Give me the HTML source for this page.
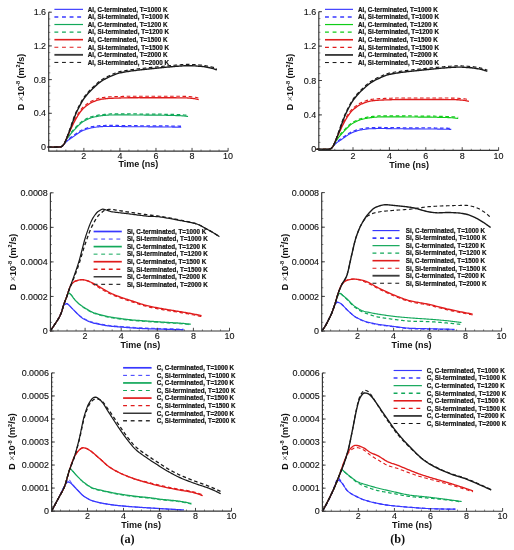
<!DOCTYPE html>
<html><head><meta charset="utf-8"><title>Figure</title>
<style>
html,body{margin:0;padding:0;background:#fff;}
body{width:514px;height:550px;overflow:hidden;}
svg{display:block}
.tl{font-family:"Liberation Sans",Arial,sans-serif;font-size:8.95px;fill:#111;stroke:#111;stroke-width:0.12px;}
.tt{font-family:"Liberation Sans",Arial,sans-serif;font-size:9px;font-weight:bold;fill:#111;}
.lg{font-family:"Liberation Sans",Arial,sans-serif;font-size:6.6px;font-weight:bold;fill:#111;stroke:#111;stroke-width:0.22px;}
.sup{font-size:5.6px;}
.mx{font-weight:normal;fill:#555;}
.cap{font-family:"Liberation Serif","Times New Roman",serif;font-size:12.3px;font-weight:bold;fill:#111;}
</style></head>
<body>
<svg width="514" height="550" viewBox="0 0 514 550">
<rect width="514" height="550" fill="#fff"/>
<path d="M47.80 147.00 L48.76 147.04 L49.72 147.08 L50.68 147.10 L51.64 147.11 L52.60 147.11 L53.56 147.10 L54.52 147.09 L55.48 147.08 L56.44 147.06 L57.40 147.04 L58.36 147.01 L58.98 147.00 L59.32 146.99 L60.28 146.87 L61.24 146.68 L61.32 146.66 L62.20 146.19 L63.16 145.26 L64.03 144.30 L64.12 144.20 L65.08 142.87 L65.83 141.94 L66.04 141.76 L67.00 140.99 L67.96 140.31 L68.92 139.68 L69.88 139.06 L70.34 138.74 L70.84 138.40 L71.80 137.73 L72.76 137.07 L73.72 136.41 L74.68 135.74 L74.84 135.63 L75.64 135.07 L76.60 134.38 L77.56 133.69 L78.52 133.04 L79.35 132.51 L79.48 132.43 L80.44 131.86 L81.40 131.31 L82.36 130.80 L83.32 130.36 L83.86 130.15 L84.28 130.00 L85.23 129.66 L86.19 129.34 L87.15 129.02 L88.11 128.72 L89.07 128.44 L90.03 128.19 L90.99 127.97 L91.95 127.77 L92.88 127.62 L92.91 127.62 L93.87 127.48 L94.83 127.33 L95.79 127.19 L96.75 127.06 L97.71 126.94 L98.67 126.83 L99.63 126.74 L100.59 126.67 L101.55 126.62 L101.89 126.61 L102.51 126.60 L103.47 126.57 L104.43 126.55 L105.39 126.52 L106.35 126.50 L107.31 126.48 L108.27 126.46 L109.23 126.45 L110.19 126.44 L111.15 126.43 L112.11 126.44 L112.71 126.44 L113.07 126.45 L114.03 126.46 L114.99 126.47 L115.95 126.49 L116.91 126.50 L117.87 126.52 L118.83 126.54 L119.79 126.55 L120.75 126.57 L121.71 126.59 L122.67 126.60 L123.63 126.62 L124.59 126.64 L125.55 126.65 L126.51 126.66 L127.47 126.68 L128.43 126.69 L128.94 126.70 L129.39 126.70 L130.35 126.71 L131.31 126.72 L132.27 126.73 L133.23 126.74 L134.19 126.75 L135.15 126.75 L136.11 126.76 L137.07 126.77 L138.03 126.77 L138.99 126.78 L139.95 126.78 L140.91 126.79 L141.87 126.79 L142.83 126.80 L143.79 126.80 L144.75 126.81 L145.71 126.81 L146.67 126.82 L147.63 126.82 L148.59 126.83 L149.55 126.83 L150.51 126.84 L151.47 126.84 L152.43 126.85 L153.39 126.85 L154.35 126.86 L155.31 126.87 L156.27 126.87 L157.23 126.88 L158.19 126.88 L159.14 126.89 L160.10 126.90 L161.06 126.91 L162.02 126.92 L162.98 126.93 L163.94 126.94 L164.90 126.95 L165.00 126.95 L165.86 126.96 L166.82 126.97 L167.78 126.99 L168.74 127.00 L169.70 127.02 L170.66 127.04 L171.62 127.06 L172.58 127.08 L173.54 127.10 L174.50 127.12 L175.46 127.14 L176.42 127.17 L177.38 127.19 L178.34 127.21 L179.30 127.24 L180.26 127.26 L181.22 127.29" fill="none" stroke="#3838ff" stroke-width="1.1"/>
<path d="M47.80 147.00 L48.76 147.04 L49.72 147.08 L50.68 147.10 L51.64 147.11 L52.60 147.11 L53.56 147.10 L54.52 147.09 L55.48 147.08 L56.44 147.06 L57.40 147.04 L58.36 147.01 L58.98 147.00 L59.32 146.99 L60.28 146.87 L61.24 146.68 L61.32 146.66 L62.20 146.19 L63.16 145.26 L64.03 144.30 L64.12 144.20 L65.08 142.92 L65.83 141.94 L66.04 141.72 L67.00 140.72 L67.96 139.78 L68.92 138.90 L69.88 138.09 L70.34 137.73 L70.84 137.36 L71.80 136.67 L72.76 136.02 L73.72 135.38 L74.68 134.73 L74.84 134.62 L75.64 134.06 L76.60 133.37 L77.56 132.68 L78.52 132.03 L79.35 131.50 L79.48 131.42 L80.44 130.85 L81.40 130.30 L82.36 129.79 L83.32 129.35 L83.86 129.14 L84.28 128.99 L85.23 128.65 L86.19 128.32 L87.15 128.01 L88.11 127.71 L89.07 127.43 L90.03 127.18 L90.99 126.96 L91.95 126.76 L92.88 126.61 L92.91 126.61 L93.87 126.46 L94.83 126.32 L95.79 126.18 L96.75 126.05 L97.71 125.93 L98.67 125.82 L99.63 125.73 L100.59 125.66 L101.55 125.61 L101.89 125.60 L102.51 125.59 L103.47 125.56 L104.43 125.54 L105.39 125.51 L106.35 125.49 L107.31 125.47 L108.27 125.45 L109.23 125.44 L110.19 125.43 L111.15 125.42 L112.11 125.43 L112.71 125.43 L113.07 125.44 L114.03 125.45 L114.99 125.46 L115.95 125.48 L116.91 125.49 L117.87 125.51 L118.83 125.53 L119.79 125.54 L120.75 125.56 L121.71 125.58 L122.67 125.59 L123.63 125.61 L124.59 125.62 L125.55 125.64 L126.51 125.65 L127.47 125.67 L128.43 125.68 L128.94 125.68 L129.39 125.69 L130.35 125.70 L131.31 125.71 L132.27 125.72 L133.23 125.73 L134.19 125.73 L135.15 125.74 L136.11 125.75 L137.07 125.76 L138.03 125.76 L138.99 125.77 L139.95 125.77 L140.91 125.78 L141.87 125.78 L142.83 125.79 L143.79 125.79 L144.75 125.80 L145.71 125.80 L146.67 125.81 L147.63 125.81 L148.59 125.82 L149.55 125.82 L150.51 125.83 L151.47 125.83 L152.43 125.84 L153.39 125.84 L154.35 125.85 L155.31 125.85 L156.27 125.86 L157.23 125.87 L158.19 125.87 L159.14 125.88 L160.10 125.89 L161.06 125.90 L162.02 125.91 L162.98 125.92 L163.94 125.93 L164.90 125.94 L165.00 125.94 L165.86 125.95 L166.82 125.96 L167.78 125.98 L168.74 125.99 L169.70 126.01 L170.66 126.03 L171.62 126.05 L172.58 126.07 L173.54 126.09 L174.50 126.11 L175.46 126.13 L176.42 126.15 L177.38 126.18 L178.34 126.20 L179.30 126.23 L180.26 126.25 L181.22 126.27" fill="none" stroke="#3838ff" stroke-width="1.3" stroke-dasharray="3.6 2.6"/>
<path d="M47.80 147.00 L48.81 147.05 L49.82 147.08 L50.83 147.10 L51.84 147.11 L52.85 147.11 L53.85 147.10 L54.86 147.08 L55.87 147.07 L56.88 147.04 L57.89 147.02 L58.90 147.00 L58.98 147.00 L59.91 146.92 L60.92 146.75 L61.32 146.66 L61.93 146.39 L62.94 145.44 L63.95 144.16 L64.03 144.05 L64.96 142.37 L65.83 140.68 L65.96 140.47 L66.97 138.92 L67.98 137.46 L68.99 136.08 L70.00 134.78 L70.34 134.36 L71.01 133.55 L72.02 132.39 L73.03 131.27 L74.04 130.17 L74.84 129.31 L75.05 129.09 L76.06 128.00 L77.07 126.93 L78.07 125.89 L79.08 124.92 L79.35 124.67 L80.09 124.01 L81.10 123.12 L82.11 122.30 L83.12 121.58 L83.86 121.14 L84.13 120.99 L85.14 120.46 L86.15 119.94 L87.16 119.45 L88.17 118.99 L89.18 118.56 L90.18 118.16 L91.19 117.81 L92.20 117.51 L92.88 117.34 L93.21 117.27 L94.22 117.03 L95.23 116.80 L96.24 116.58 L97.25 116.37 L98.26 116.18 L99.27 116.00 L100.28 115.85 L101.29 115.72 L101.89 115.66 L102.29 115.62 L103.30 115.52 L104.31 115.42 L105.32 115.33 L106.33 115.24 L107.34 115.16 L108.35 115.09 L109.36 115.03 L110.37 115.00 L110.91 114.98 L111.38 114.98 L112.39 114.96 L113.40 114.95 L114.40 114.94 L115.41 114.92 L116.42 114.91 L117.43 114.90 L118.44 114.90 L119.45 114.90 L119.92 114.90 L120.46 114.90 L121.47 114.91 L122.48 114.91 L123.49 114.92 L124.50 114.92 L125.51 114.92 L126.51 114.93 L127.52 114.94 L128.53 114.94 L129.54 114.95 L130.55 114.95 L131.56 114.96 L132.57 114.97 L133.58 114.97 L134.59 114.98 L135.60 114.99 L136.61 114.99 L137.62 115.00 L138.62 115.01 L139.63 115.02 L140.64 115.02 L141.65 115.03 L142.66 115.04 L143.67 115.05 L144.68 115.06 L145.69 115.07 L146.70 115.07 L147.71 115.08 L148.72 115.09 L149.73 115.10 L150.73 115.11 L151.74 115.12 L152.75 115.13 L153.76 115.13 L154.77 115.14 L155.78 115.15 L155.98 115.15 L156.79 115.16 L157.80 115.17 L158.81 115.18 L159.82 115.20 L160.83 115.21 L161.84 115.23 L162.84 115.24 L163.85 115.26 L164.86 115.28 L165.87 115.30 L166.88 115.32 L167.89 115.35 L168.90 115.37 L169.91 115.39 L170.92 115.42 L171.93 115.44 L172.94 115.47 L173.95 115.50 L174.95 115.53 L175.96 115.56 L176.97 115.59 L177.98 115.62 L178.99 115.65 L179.42 115.66 L180.00 115.68 L181.01 115.74 L182.02 115.81 L183.03 115.91 L184.04 116.01 L185.05 116.13 L186.06 116.25 L187.06 116.38 L188.07 116.50" fill="none" stroke="#12a85a" stroke-width="1.15"/>
<path d="M47.80 147.00 L48.81 147.05 L49.82 147.08 L50.83 147.10 L51.84 147.11 L52.85 147.11 L53.85 147.10 L54.86 147.08 L55.87 147.07 L56.88 147.04 L57.89 147.02 L58.90 147.00 L58.98 147.00 L59.91 146.92 L60.92 146.75 L61.32 146.66 L61.93 146.39 L62.94 145.44 L63.95 144.16 L64.03 144.05 L64.96 142.40 L65.83 140.68 L65.96 140.45 L66.97 138.68 L67.98 136.95 L68.99 135.30 L70.00 133.80 L70.34 133.35 L71.01 132.50 L72.02 131.32 L73.03 130.21 L74.04 129.15 L74.84 128.30 L75.05 128.08 L76.06 127.00 L77.07 125.92 L78.07 124.88 L79.08 123.91 L79.35 123.66 L80.09 123.00 L81.10 122.11 L82.11 121.29 L83.12 120.57 L83.86 120.12 L84.13 119.98 L85.14 119.45 L86.15 118.93 L87.16 118.44 L88.17 117.98 L89.18 117.54 L90.18 117.15 L91.19 116.80 L92.20 116.50 L92.88 116.33 L93.21 116.25 L94.22 116.02 L95.23 115.79 L96.24 115.57 L97.25 115.36 L98.26 115.16 L99.27 114.99 L100.28 114.84 L101.29 114.71 L101.89 114.65 L102.29 114.61 L103.30 114.51 L104.31 114.41 L105.32 114.32 L106.33 114.23 L107.34 114.15 L108.35 114.08 L109.36 114.02 L110.37 113.98 L110.91 113.97 L111.38 113.97 L112.39 113.95 L113.40 113.94 L114.40 113.92 L115.41 113.91 L116.42 113.90 L117.43 113.89 L118.44 113.89 L119.45 113.89 L119.92 113.89 L120.46 113.89 L121.47 113.90 L122.48 113.90 L123.49 113.90 L124.50 113.91 L125.51 113.91 L126.51 113.92 L127.52 113.92 L128.53 113.93 L129.54 113.94 L130.55 113.94 L131.56 113.95 L132.57 113.96 L133.58 113.96 L134.59 113.97 L135.60 113.98 L136.61 113.98 L137.62 113.99 L138.62 114.00 L139.63 114.01 L140.64 114.01 L141.65 114.02 L142.66 114.03 L143.67 114.04 L144.68 114.05 L145.69 114.05 L146.70 114.06 L147.71 114.07 L148.72 114.08 L149.73 114.09 L150.73 114.10 L151.74 114.11 L152.75 114.11 L153.76 114.12 L154.77 114.13 L155.78 114.14 L155.98 114.14 L156.79 114.15 L157.80 114.16 L158.81 114.17 L159.82 114.19 L160.83 114.20 L161.84 114.22 L162.84 114.23 L163.85 114.25 L164.86 114.27 L165.87 114.29 L166.88 114.31 L167.89 114.34 L168.90 114.36 L169.91 114.38 L170.92 114.41 L171.93 114.43 L172.94 114.46 L173.95 114.49 L174.95 114.52 L175.96 114.54 L176.97 114.57 L177.98 114.60 L178.99 114.63 L179.42 114.65 L180.00 114.67 L181.01 114.73 L182.02 114.80 L183.03 114.90 L184.04 115.00 L185.05 115.12 L186.06 115.24 L187.06 115.37 L188.07 115.49" fill="none" stroke="#12a85a" stroke-width="1.25" stroke-dasharray="3.6 2.6"/>
<path d="M47.80 147.00 L48.89 147.05 L49.97 147.08 L51.06 147.10 L52.14 147.11 L53.23 147.10 L54.31 147.09 L55.40 147.07 L56.49 147.05 L57.57 147.03 L58.66 147.01 L58.98 147.00 L59.74 146.94 L60.83 146.76 L61.32 146.66 L61.91 146.41 L63.00 145.40 L64.03 144.05 L64.09 143.97 L65.17 141.77 L65.83 140.26 L66.26 139.32 L67.34 136.88 L68.43 134.40 L69.51 131.95 L70.34 130.15 L70.60 129.59 L71.69 127.26 L72.77 124.98 L73.86 122.78 L74.84 120.88 L74.94 120.70 L76.03 118.72 L77.11 116.80 L78.20 115.01 L79.29 113.39 L79.35 113.30 L80.37 111.90 L81.46 110.47 L82.54 109.19 L83.63 108.11 L83.86 107.91 L84.71 107.21 L85.80 106.34 L86.88 105.50 L87.97 104.70 L89.06 103.96 L90.14 103.28 L91.23 102.68 L92.31 102.16 L92.88 101.93 L93.40 101.72 L94.48 101.30 L95.57 100.89 L96.66 100.49 L97.74 100.12 L98.83 99.79 L99.91 99.50 L101.00 99.28 L101.89 99.15 L102.08 99.12 L103.17 98.99 L104.26 98.86 L105.34 98.74 L106.43 98.62 L107.51 98.52 L108.60 98.43 L109.68 98.36 L110.77 98.31 L110.91 98.30 L111.86 98.27 L112.94 98.24 L114.03 98.20 L115.11 98.17 L116.20 98.13 L117.28 98.09 L118.37 98.06 L119.46 98.02 L120.54 97.99 L121.63 97.95 L122.71 97.92 L123.80 97.89 L124.88 97.86 L125.97 97.83 L127.06 97.81 L128.14 97.79 L129.23 97.77 L130.31 97.75 L131.40 97.73 L132.48 97.72 L133.57 97.72 L134.34 97.71 L134.66 97.71 L135.74 97.71 L136.83 97.71 L137.91 97.71 L139.00 97.70 L140.08 97.70 L141.17 97.70 L142.26 97.70 L143.34 97.70 L144.43 97.70 L145.51 97.70 L146.60 97.70 L147.68 97.70 L148.77 97.70 L149.85 97.70 L150.94 97.70 L152.03 97.70 L153.11 97.70 L154.20 97.70 L155.28 97.70 L156.37 97.70 L157.45 97.70 L158.54 97.70 L159.63 97.70 L160.71 97.71 L161.80 97.71 L162.88 97.71 L163.97 97.71 L165.00 97.71 L165.05 97.71 L166.14 97.72 L167.23 97.72 L168.31 97.73 L169.40 97.73 L170.48 97.74 L171.57 97.75 L172.65 97.76 L173.74 97.77 L174.83 97.77 L175.91 97.79 L177.00 97.80 L178.08 97.81 L179.17 97.82 L180.25 97.83 L181.34 97.84 L182.43 97.86 L183.51 97.87 L184.60 97.88 L184.83 97.88 L185.68 97.90 L186.77 97.94 L187.85 98.00 L188.94 98.08 L190.03 98.17 L191.11 98.28 L192.20 98.39 L193.28 98.50 L193.84 98.56 L194.37 98.62 L195.45 98.81 L196.54 99.06 L197.63 99.35 L198.71 99.65" fill="none" stroke="#e01c1c" stroke-width="1.35"/>
<path d="M47.80 147.00 L48.89 147.05 L49.97 147.08 L51.06 147.10 L52.14 147.11 L53.23 147.10 L54.31 147.09 L55.40 147.07 L56.49 147.05 L57.57 147.03 L58.66 147.01 L58.98 147.00 L59.74 146.94 L60.83 146.76 L61.32 146.66 L61.91 146.40 L63.00 145.37 L64.03 144.05 L64.09 143.97 L65.17 141.82 L65.83 140.26 L66.26 139.23 L67.34 136.42 L68.43 133.49 L69.51 130.63 L70.34 128.63 L70.60 128.04 L71.69 125.65 L72.77 123.38 L73.86 121.22 L74.84 119.37 L74.94 119.19 L76.03 117.21 L77.11 115.30 L78.20 113.50 L79.29 111.88 L79.35 111.78 L80.37 110.38 L81.46 108.96 L82.54 107.67 L83.63 106.59 L83.86 106.39 L84.71 105.69 L85.80 104.82 L86.88 103.98 L87.97 103.18 L89.06 102.44 L90.14 101.76 L91.23 101.16 L92.31 100.64 L92.88 100.41 L93.40 100.21 L94.48 99.78 L95.57 99.37 L96.66 98.97 L97.74 98.60 L98.83 98.27 L99.91 97.99 L101.00 97.76 L101.89 97.63 L102.08 97.61 L103.17 97.47 L104.26 97.34 L105.34 97.22 L106.43 97.10 L107.51 97.00 L108.60 96.91 L109.68 96.84 L110.77 96.79 L110.91 96.79 L111.86 96.76 L112.94 96.72 L114.03 96.69 L115.11 96.65 L116.20 96.61 L117.28 96.58 L118.37 96.54 L119.46 96.51 L120.54 96.47 L121.63 96.44 L122.71 96.41 L123.80 96.37 L124.88 96.35 L125.97 96.32 L127.06 96.29 L128.14 96.27 L129.23 96.25 L130.31 96.23 L131.40 96.22 L132.48 96.21 L133.57 96.20 L134.34 96.20 L134.66 96.20 L135.74 96.19 L136.83 96.19 L137.91 96.19 L139.00 96.19 L140.08 96.19 L141.17 96.19 L142.26 96.18 L143.34 96.18 L144.43 96.18 L145.51 96.18 L146.60 96.18 L147.68 96.18 L148.77 96.18 L149.85 96.18 L150.94 96.18 L152.03 96.18 L153.11 96.18 L154.20 96.18 L155.28 96.18 L156.37 96.18 L157.45 96.18 L158.54 96.19 L159.63 96.19 L160.71 96.19 L161.80 96.19 L162.88 96.19 L163.97 96.20 L165.00 96.20 L165.05 96.20 L166.14 96.20 L167.23 96.20 L168.31 96.21 L169.40 96.22 L170.48 96.22 L171.57 96.23 L172.65 96.24 L173.74 96.25 L174.83 96.26 L175.91 96.27 L177.00 96.28 L178.08 96.29 L179.17 96.30 L180.25 96.31 L181.34 96.33 L182.43 96.34 L183.51 96.35 L184.60 96.36 L184.83 96.37 L185.68 96.38 L186.77 96.43 L187.85 96.49 L188.94 96.57 L190.03 96.66 L191.11 96.76 L192.20 96.87 L193.28 96.98 L193.84 97.04 L194.37 97.10 L195.45 97.30 L196.54 97.55 L197.63 97.84 L198.71 98.13" fill="none" stroke="#e01c1c" stroke-width="1.1" stroke-dasharray="3.6 2.6"/>
<path d="M47.80 147.00 L49.02 147.05 L50.23 147.09 L51.45 147.10 L52.67 147.11 L53.88 147.10 L55.10 147.08 L56.32 147.06 L57.53 147.03 L58.75 147.00 L58.98 147.00 L59.97 146.91 L61.18 146.69 L61.32 146.66 L62.40 146.02 L63.62 144.60 L64.03 144.05 L64.83 142.58 L65.83 140.26 L66.05 139.75 L67.27 136.82 L68.48 133.75 L69.70 130.57 L70.34 128.89 L70.92 127.30 L72.13 123.79 L73.35 120.25 L74.57 116.94 L74.84 116.25 L75.78 114.02 L77.00 111.31 L78.22 108.78 L79.35 106.56 L79.43 106.40 L80.65 104.12 L81.87 101.92 L83.08 99.89 L83.86 98.72 L84.30 98.10 L85.52 96.48 L86.73 94.96 L87.95 93.55 L88.37 93.08 L89.17 92.20 L90.38 90.90 L91.60 89.66 L92.82 88.50 L92.88 88.45 L94.03 87.37 L95.25 86.25 L96.47 85.14 L97.68 84.06 L98.90 83.04 L100.12 82.09 L101.33 81.22 L101.89 80.86 L102.55 80.46 L103.77 79.74 L104.98 79.06 L106.20 78.41 L107.42 77.81 L108.64 77.23 L109.85 76.68 L110.91 76.23 L111.07 76.16 L112.29 75.64 L113.50 75.11 L114.72 74.58 L115.94 74.09 L117.15 73.64 L118.37 73.25 L119.59 72.93 L119.92 72.86 L120.80 72.69 L122.02 72.46 L123.24 72.24 L124.45 72.02 L125.67 71.82 L126.89 71.63 L128.10 71.44 L129.32 71.27 L130.54 71.09 L131.75 70.93 L132.97 70.77 L134.19 70.62 L135.40 70.47 L136.62 70.32 L137.84 70.18 L137.95 70.16 L139.05 70.04 L140.27 69.90 L141.49 69.76 L142.70 69.62 L143.92 69.49 L145.14 69.36 L146.35 69.22 L147.57 69.09 L148.79 68.96 L150.00 68.83 L151.22 68.71 L152.44 68.58 L153.65 68.46 L154.87 68.34 L155.98 68.23 L156.09 68.22 L157.30 68.10 L158.52 67.97 L159.74 67.85 L160.95 67.73 L162.17 67.62 L163.39 67.50 L164.60 67.38 L165.82 67.26 L167.04 67.15 L168.25 67.04 L169.47 66.93 L170.69 66.82 L171.90 66.72 L173.12 66.61 L174.01 66.54 L174.34 66.51 L175.55 66.42 L176.77 66.32 L177.99 66.22 L179.20 66.12 L180.42 66.03 L181.64 65.95 L182.85 65.87 L184.07 65.80 L185.29 65.75 L186.50 65.70 L186.63 65.70 L187.72 65.68 L188.94 65.67 L190.15 65.69 L191.37 65.73 L192.59 65.78 L193.80 65.85 L195.02 65.92 L196.24 66.01 L197.45 66.10 L198.67 66.19 L199.89 66.28 L201.06 66.37 L201.10 66.38 L202.32 66.49 L203.54 66.64 L204.75 66.81 L205.97 67.02 L207.19 67.24 L208.40 67.47 L209.62 67.71 L210.07 67.81 L210.84 67.97 L212.05 68.29 L213.27 68.65 L214.49 69.05 L215.70 69.47 L216.92 69.91" fill="none" stroke="#1a1a1a" stroke-width="1.4"/>
<path d="M47.80 147.00 L49.02 147.05 L50.23 147.09 L51.45 147.10 L52.67 147.11 L53.88 147.10 L55.10 147.08 L56.32 147.06 L57.53 147.03 L58.75 147.00 L58.98 147.00 L59.97 146.91 L61.18 146.69 L61.32 146.66 L62.40 146.01 L63.62 144.59 L64.03 144.05 L64.83 142.62 L65.83 140.26 L66.05 139.71 L67.27 136.47 L68.48 132.98 L69.70 129.44 L70.34 127.62 L70.92 125.97 L72.13 122.43 L73.35 118.94 L74.57 115.68 L74.84 114.98 L75.78 112.75 L77.00 110.04 L78.22 107.51 L79.35 105.30 L79.43 105.14 L80.65 102.85 L81.87 100.66 L83.08 98.63 L83.86 97.46 L84.30 96.84 L85.52 95.21 L86.73 93.70 L87.95 92.28 L88.37 91.82 L89.17 90.94 L90.38 89.64 L91.60 88.40 L92.82 87.24 L92.88 87.18 L94.03 86.11 L95.25 84.98 L96.47 83.87 L97.68 82.80 L98.90 81.77 L100.12 80.82 L101.33 79.96 L101.89 79.60 L102.55 79.19 L103.77 78.47 L104.98 77.79 L106.20 77.15 L107.42 76.54 L108.64 75.97 L109.85 75.42 L110.91 74.97 L111.07 74.90 L112.29 74.37 L113.50 73.84 L114.72 73.32 L115.94 72.83 L117.15 72.37 L118.37 71.98 L119.59 71.67 L119.92 71.60 L120.80 71.42 L122.02 71.19 L123.24 70.97 L124.45 70.76 L125.67 70.56 L126.89 70.37 L128.10 70.18 L129.32 70.00 L130.54 69.83 L131.75 69.67 L132.97 69.51 L134.19 69.35 L135.40 69.20 L136.62 69.06 L137.84 68.91 L137.95 68.90 L139.05 68.77 L140.27 68.63 L141.49 68.50 L142.70 68.36 L143.92 68.23 L145.14 68.09 L146.35 67.96 L147.57 67.83 L148.79 67.70 L150.00 67.57 L151.22 67.44 L152.44 67.32 L153.65 67.20 L154.87 67.07 L155.98 66.96 L156.09 66.95 L157.30 66.83 L158.52 66.71 L159.74 66.59 L160.95 66.47 L162.17 66.35 L163.39 66.23 L164.60 66.12 L165.82 66.00 L167.04 65.89 L168.25 65.77 L169.47 65.66 L170.69 65.56 L171.90 65.45 L173.12 65.35 L174.01 65.28 L174.34 65.25 L175.55 65.15 L176.77 65.05 L177.99 64.95 L179.20 64.86 L180.42 64.77 L181.64 64.68 L182.85 64.61 L184.07 64.54 L185.29 64.48 L186.50 64.44 L186.63 64.44 L187.72 64.41 L188.94 64.41 L190.15 64.43 L191.37 64.47 L192.59 64.52 L193.80 64.58 L195.02 64.66 L196.24 64.74 L197.45 64.83 L198.67 64.93 L199.89 65.02 L201.06 65.11 L201.10 65.11 L202.32 65.22 L203.54 65.37 L204.75 65.55 L205.97 65.75 L207.19 65.97 L208.40 66.21 L209.62 66.45 L210.07 66.54 L210.84 66.71 L212.05 67.02 L213.27 67.39 L214.49 67.79 L215.70 68.21 L216.92 68.65" fill="none" stroke="#1a1a1a" stroke-width="1.15" stroke-dasharray="3.6 2.6"/>
<path d="M48.7 12.20V151.1H228.10" fill="none" stroke="#333" stroke-width="1.15"/>
<text x="46.10" y="150.10" text-anchor="end" class="tl">0</text>
<text x="46.10" y="116.40" text-anchor="end" class="tl">0.4</text>
<text x="46.10" y="82.70" text-anchor="end" class="tl">0.8</text>
<text x="46.10" y="49.00" text-anchor="end" class="tl">1.2</text>
<text x="46.10" y="15.30" text-anchor="end" class="tl">1.6</text>
<text x="83.86" y="159.2" text-anchor="middle" class="tl">2</text>
<text x="119.92" y="159.2" text-anchor="middle" class="tl">4</text>
<text x="155.98" y="159.2" text-anchor="middle" class="tl">6</text>
<text x="192.04" y="159.2" text-anchor="middle" class="tl">8</text>
<text x="228.10" y="159.2" text-anchor="middle" class="tl">10</text>
<path d="M48.7 147.00h3.2M48.7 113.30h3.2M48.7 79.60h3.2M48.7 45.90h3.2M48.7 12.20h3.2M83.86 151.1v-3.2M119.92 151.1v-3.2M155.98 151.1v-3.2M192.04 151.1v-3.2M228.10 151.1v-3.2" fill="none" stroke="#333" stroke-width="0.9"/>
<path d="M48.7 147.00h1.6M48.7 140.26h1.6M48.7 133.52h1.6M48.7 126.78h1.6M48.7 120.04h1.6M48.7 113.30h1.6M48.7 106.56h1.6M48.7 99.82h1.6M48.7 93.08h1.6M48.7 86.34h1.6M48.7 79.60h1.6M48.7 72.86h1.6M48.7 66.12h1.6M48.7 59.38h1.6M48.7 52.64h1.6M48.7 45.90h1.6M48.7 39.16h1.6M48.7 32.42h1.6M48.7 25.68h1.6M48.7 18.94h1.6M48.7 12.20h1.6M56.81 151.1v-1.6M65.83 151.1v-1.6M74.84 151.1v-1.6M92.88 151.1v-1.6M101.89 151.1v-1.6M110.91 151.1v-1.6M128.94 151.1v-1.6M137.95 151.1v-1.6M146.97 151.1v-1.6M165.00 151.1v-1.6M174.01 151.1v-1.6M183.03 151.1v-1.6M201.06 151.1v-1.6M210.07 151.1v-1.6M219.09 151.1v-1.6" fill="none" stroke="#333" stroke-width="0.6"/>
<text x="138.4" y="167.3" text-anchor="middle" class="tt">Time (ns)</text>
<text transform="translate(23.6 82) rotate(-90)" text-anchor="middle" class="tt">D <tspan class="mx">×</tspan>10<tspan class="sup" dy="-3.8">-8</tspan><tspan dy="3.8"> (m</tspan><tspan class="sup" dy="-3.8">2</tspan><tspan dy="3.8">/s)</tspan></text>
<path d="M54.4 9.35H83" stroke="#3838ff" stroke-width="1.15"/>
<text transform="translate(87.8 11.65) scale(0.952 1)" class="lg">Al, C-terminated, T=1000 K</text>
<path d="M54.4 16.93H83" stroke="#3838ff" stroke-width="1.55" stroke-dasharray="3.9 3.7"/>
<text transform="translate(87.8 19.23) scale(0.952 1)" class="lg">Al, Si-terminated, T=1000 K</text>
<path d="M54.4 24.51H83" stroke="#12a85a" stroke-width="1.2"/>
<text transform="translate(87.8 26.81) scale(0.952 1)" class="lg">Al, C-terminated, T=1200 K</text>
<path d="M54.4 32.09H83" stroke="#12a85a" stroke-width="1.4" stroke-dasharray="3.9 3.7"/>
<text transform="translate(87.8 34.39) scale(0.952 1)" class="lg">Al, Si-terminated, T=1200 K</text>
<path d="M54.4 39.67H83" stroke="#e01c1c" stroke-width="1.6"/>
<text transform="translate(87.8 41.97) scale(0.952 1)" class="lg">Al, C-terminated, T=1500 K</text>
<path d="M54.4 47.25H83" stroke="#e01c1c" stroke-width="1.1" stroke-dasharray="3.9 3.7"/>
<text transform="translate(87.8 49.55) scale(0.952 1)" class="lg">Al, Si-terminated, T=1500 K</text>
<path d="M54.4 54.83H83" stroke="#3c3c3c" stroke-width="1.85"/>
<text transform="translate(87.8 57.13) scale(0.952 1)" class="lg">Al, C-terminated, T=2000 K</text>
<path d="M54.4 62.41H83" stroke="#111" stroke-width="1.0" stroke-dasharray="3.9 3.7"/>
<text transform="translate(87.8 64.71) scale(0.952 1)" class="lg">Al, Si-terminated, T=2000 K</text>
<path d="M316.60 149.30 L317.57 149.35 L318.54 149.38 L319.51 149.40 L320.48 149.41 L321.44 149.41 L322.41 149.40 L323.38 149.39 L324.35 149.38 L325.32 149.36 L326.29 149.34 L327.26 149.31 L327.88 149.30 L328.23 149.29 L329.20 149.17 L330.16 148.98 L330.25 148.96 L331.13 148.48 L332.10 147.54 L332.98 146.58 L333.07 146.47 L334.04 145.13 L334.80 144.19 L335.01 144.01 L335.98 143.23 L336.95 142.54 L337.92 141.91 L338.89 141.27 L339.35 140.96 L339.85 140.61 L340.82 139.93 L341.79 139.26 L342.76 138.59 L343.73 137.92 L343.90 137.81 L344.70 137.24 L345.67 136.55 L346.64 135.85 L347.61 135.19 L348.45 134.66 L348.57 134.58 L349.54 134.00 L350.51 133.44 L351.48 132.93 L352.45 132.49 L353.00 132.27 L353.42 132.12 L354.39 131.78 L355.36 131.45 L356.33 131.13 L357.29 130.83 L358.26 130.55 L359.23 130.29 L360.20 130.07 L361.17 129.87 L362.10 129.72 L362.14 129.71 L363.11 129.57 L364.08 129.43 L365.05 129.28 L366.01 129.15 L366.98 129.03 L367.95 128.92 L368.92 128.82 L369.89 128.75 L370.86 128.71 L371.20 128.70 L371.83 128.68 L372.80 128.66 L373.77 128.63 L374.74 128.61 L375.70 128.58 L376.67 128.56 L377.64 128.54 L378.61 128.53 L379.58 128.52 L380.55 128.52 L381.52 128.52 L382.12 128.53 L382.49 128.53 L383.46 128.54 L384.42 128.56 L385.39 128.57 L386.36 128.59 L387.33 128.60 L388.30 128.62 L389.27 128.64 L390.24 128.65 L391.21 128.67 L392.18 128.69 L393.14 128.70 L394.11 128.72 L395.08 128.74 L396.05 128.75 L397.02 128.76 L397.99 128.78 L398.50 128.78 L398.96 128.79 L399.93 128.80 L400.90 128.81 L401.87 128.81 L402.83 128.82 L403.80 128.83 L404.77 128.84 L405.74 128.85 L406.71 128.85 L407.68 128.86 L408.65 128.86 L409.62 128.87 L410.59 128.88 L411.55 128.88 L412.52 128.89 L413.49 128.89 L414.46 128.90 L415.43 128.90 L416.40 128.91 L417.37 128.91 L418.34 128.92 L419.31 128.92 L420.27 128.92 L421.24 128.93 L422.21 128.94 L423.18 128.94 L424.15 128.95 L425.12 128.95 L426.09 128.96 L427.06 128.97 L428.03 128.97 L428.99 128.98 L429.96 128.99 L430.93 129.00 L431.90 129.01 L432.87 129.01 L433.84 129.02 L434.81 129.04 L434.90 129.04 L435.78 129.05 L436.75 129.06 L437.72 129.08 L438.68 129.09 L439.65 129.11 L440.62 129.13 L441.59 129.15 L442.56 129.17 L443.53 129.19 L444.50 129.21 L445.47 129.23 L446.44 129.26 L447.40 129.28 L448.37 129.30 L449.34 129.33 L450.31 129.35 L451.28 129.38" fill="none" stroke="#3838ff" stroke-width="1.1"/>
<path d="M316.60 149.30 L317.57 149.35 L318.54 149.38 L319.51 149.40 L320.48 149.41 L321.44 149.41 L322.41 149.40 L323.38 149.39 L324.35 149.38 L325.32 149.36 L326.29 149.34 L327.26 149.31 L327.88 149.30 L328.23 149.29 L329.20 149.17 L330.16 148.98 L330.25 148.96 L331.13 148.48 L332.10 147.54 L332.98 146.58 L333.07 146.47 L334.04 145.17 L334.80 144.19 L335.01 143.96 L335.98 142.95 L336.95 142.00 L337.92 141.12 L338.89 140.30 L339.35 139.93 L339.85 139.55 L340.82 138.86 L341.79 138.20 L342.76 137.56 L343.73 136.90 L343.90 136.78 L344.70 136.22 L345.67 135.52 L346.64 134.83 L347.61 134.17 L348.45 133.63 L348.57 133.56 L349.54 132.98 L350.51 132.42 L351.48 131.91 L352.45 131.46 L353.00 131.25 L353.42 131.10 L354.39 130.76 L355.36 130.43 L356.33 130.11 L357.29 129.81 L358.26 129.53 L359.23 129.27 L360.20 129.04 L361.17 128.85 L362.10 128.70 L362.14 128.69 L363.11 128.55 L364.08 128.40 L365.05 128.26 L366.01 128.13 L366.98 128.00 L367.95 127.89 L368.92 127.80 L369.89 127.73 L370.86 127.68 L371.20 127.67 L371.83 127.66 L372.80 127.64 L373.77 127.61 L374.74 127.59 L375.70 127.56 L376.67 127.54 L377.64 127.52 L378.61 127.51 L379.58 127.50 L380.55 127.50 L381.52 127.50 L382.12 127.50 L382.49 127.51 L383.46 127.52 L384.42 127.54 L385.39 127.55 L386.36 127.57 L387.33 127.58 L388.30 127.60 L389.27 127.62 L390.24 127.63 L391.21 127.65 L392.18 127.67 L393.14 127.68 L394.11 127.70 L395.08 127.71 L396.05 127.73 L397.02 127.74 L397.99 127.75 L398.50 127.76 L398.96 127.76 L399.93 127.77 L400.90 127.78 L401.87 127.79 L402.83 127.80 L403.80 127.81 L404.77 127.82 L405.74 127.82 L406.71 127.83 L407.68 127.84 L408.65 127.84 L409.62 127.85 L410.59 127.85 L411.55 127.86 L412.52 127.86 L413.49 127.87 L414.46 127.87 L415.43 127.88 L416.40 127.88 L417.37 127.89 L418.34 127.89 L419.31 127.90 L420.27 127.90 L421.24 127.91 L422.21 127.91 L423.18 127.92 L424.15 127.92 L425.12 127.93 L426.09 127.94 L427.06 127.94 L428.03 127.95 L428.99 127.96 L429.96 127.97 L430.93 127.97 L431.90 127.98 L432.87 127.99 L433.84 128.00 L434.81 128.01 L434.90 128.02 L435.78 128.03 L436.75 128.04 L437.72 128.05 L438.68 128.07 L439.65 128.09 L440.62 128.11 L441.59 128.12 L442.56 128.15 L443.53 128.17 L444.50 128.19 L445.47 128.21 L446.44 128.23 L447.40 128.26 L448.37 128.28 L449.34 128.31 L450.31 128.33 L451.28 128.36" fill="none" stroke="#3838ff" stroke-width="1.3" stroke-dasharray="3.6 2.6"/>
<path d="M316.60 149.30 L317.62 149.35 L318.64 149.38 L319.66 149.40 L320.67 149.41 L321.69 149.41 L322.71 149.40 L323.73 149.38 L324.75 149.37 L325.77 149.34 L326.79 149.32 L327.81 149.30 L327.88 149.30 L328.82 149.22 L329.84 149.04 L330.25 148.96 L330.86 148.68 L331.88 147.72 L332.90 146.43 L332.98 146.32 L333.92 144.62 L334.80 142.91 L334.94 142.70 L335.95 141.13 L336.97 139.66 L337.99 138.26 L339.01 136.95 L339.35 136.53 L340.03 135.71 L341.05 134.53 L342.07 133.40 L343.09 132.29 L343.90 131.42 L344.10 131.20 L345.12 130.10 L346.14 129.02 L347.16 127.97 L348.18 126.98 L348.45 126.74 L349.20 126.07 L350.22 125.17 L351.23 124.34 L352.25 123.61 L353.00 123.16 L353.27 123.02 L354.29 122.48 L355.31 121.96 L356.33 121.46 L357.35 120.99 L358.37 120.56 L359.38 120.16 L360.40 119.81 L361.42 119.50 L362.10 119.33 L362.44 119.25 L363.46 119.01 L364.48 118.78 L365.50 118.56 L366.52 118.35 L367.53 118.15 L368.55 117.97 L369.57 117.82 L370.59 117.69 L371.20 117.63 L371.61 117.59 L372.63 117.49 L373.65 117.39 L374.66 117.29 L375.68 117.20 L376.70 117.12 L377.72 117.05 L378.74 116.99 L379.76 116.96 L380.30 116.95 L380.78 116.94 L381.80 116.93 L382.81 116.91 L383.83 116.90 L384.85 116.88 L385.87 116.87 L386.89 116.87 L387.91 116.86 L388.93 116.86 L389.40 116.86 L389.94 116.86 L390.96 116.87 L391.98 116.87 L393.00 116.88 L394.02 116.88 L395.04 116.89 L396.06 116.89 L397.08 116.90 L398.09 116.90 L399.11 116.91 L400.13 116.91 L401.15 116.92 L402.17 116.93 L403.19 116.93 L404.21 116.94 L405.22 116.95 L406.24 116.96 L407.26 116.96 L408.28 116.97 L409.30 116.98 L410.32 116.99 L411.34 116.99 L412.36 117.00 L413.37 117.01 L414.39 117.02 L415.41 117.03 L416.43 117.04 L417.45 117.05 L418.47 117.05 L419.49 117.06 L420.50 117.07 L421.52 117.08 L422.54 117.09 L423.56 117.10 L424.58 117.11 L425.60 117.12 L425.80 117.12 L426.62 117.12 L427.64 117.14 L428.65 117.15 L429.67 117.16 L430.69 117.18 L431.71 117.19 L432.73 117.21 L433.75 117.23 L434.77 117.25 L435.79 117.27 L436.80 117.29 L437.82 117.31 L438.84 117.34 L439.86 117.36 L440.88 117.39 L441.90 117.41 L442.92 117.44 L443.93 117.47 L444.95 117.49 L445.97 117.52 L446.99 117.55 L448.01 117.58 L449.03 117.61 L449.46 117.63 L450.05 117.65 L451.07 117.71 L452.08 117.78 L453.10 117.88 L454.12 117.99 L455.14 118.10 L456.16 118.23 L457.18 118.35 L458.20 118.48" fill="none" stroke="#10cc18" stroke-width="1.15"/>
<path d="M316.60 149.30 L317.62 149.35 L318.64 149.38 L319.66 149.40 L320.67 149.41 L321.69 149.41 L322.71 149.40 L323.73 149.38 L324.75 149.37 L325.77 149.34 L326.79 149.32 L327.81 149.30 L327.88 149.30 L328.82 149.22 L329.84 149.04 L330.25 148.96 L330.86 148.68 L331.88 147.73 L332.90 146.43 L332.98 146.32 L333.92 144.65 L334.80 142.91 L334.94 142.68 L335.95 140.89 L336.97 139.14 L337.99 137.47 L339.01 135.96 L339.35 135.51 L340.03 134.65 L341.05 133.45 L342.07 132.34 L343.09 131.26 L343.90 130.40 L344.10 130.18 L345.12 129.09 L346.14 128.00 L347.16 126.95 L348.18 125.96 L348.45 125.72 L349.20 125.05 L350.22 124.15 L351.23 123.32 L352.25 122.59 L353.00 122.14 L353.27 121.99 L354.29 121.46 L355.31 120.94 L356.33 120.44 L357.35 119.97 L358.37 119.53 L359.38 119.14 L360.40 118.78 L361.42 118.48 L362.10 118.31 L362.44 118.23 L363.46 117.99 L364.48 117.76 L365.50 117.54 L366.52 117.32 L367.53 117.13 L368.55 116.95 L369.57 116.80 L370.59 116.67 L371.20 116.61 L371.61 116.57 L372.63 116.47 L373.65 116.37 L374.66 116.27 L375.68 116.18 L376.70 116.10 L377.72 116.03 L378.74 115.97 L379.76 115.94 L380.30 115.93 L380.78 115.92 L381.80 115.90 L382.81 115.89 L383.83 115.88 L384.85 115.86 L385.87 115.85 L386.89 115.84 L387.91 115.84 L388.93 115.84 L389.40 115.84 L389.94 115.84 L390.96 115.85 L391.98 115.85 L393.00 115.85 L394.02 115.86 L395.04 115.86 L396.06 115.87 L397.08 115.88 L398.09 115.88 L399.11 115.89 L400.13 115.89 L401.15 115.90 L402.17 115.91 L403.19 115.91 L404.21 115.92 L405.22 115.93 L406.24 115.93 L407.26 115.94 L408.28 115.95 L409.30 115.96 L410.32 115.97 L411.34 115.97 L412.36 115.98 L413.37 115.99 L414.39 116.00 L415.41 116.01 L416.43 116.01 L417.45 116.02 L418.47 116.03 L419.49 116.04 L420.50 116.05 L421.52 116.06 L422.54 116.07 L423.56 116.08 L424.58 116.08 L425.60 116.09 L425.80 116.10 L426.62 116.10 L427.64 116.11 L428.65 116.13 L429.67 116.14 L430.69 116.15 L431.71 116.17 L432.73 116.19 L433.75 116.21 L434.77 116.23 L435.79 116.25 L436.80 116.27 L437.82 116.29 L438.84 116.31 L439.86 116.34 L440.88 116.36 L441.90 116.39 L442.92 116.42 L443.93 116.44 L444.95 116.47 L445.97 116.50 L446.99 116.53 L448.01 116.56 L449.03 116.59 L449.46 116.61 L450.05 116.63 L451.07 116.69 L452.08 116.76 L453.10 116.86 L454.12 116.96 L455.14 117.08 L456.16 117.21 L457.18 117.33 L458.20 117.46" fill="none" stroke="#10cc18" stroke-width="1.25" stroke-dasharray="3.6 2.6"/>
<path d="M316.60 149.30 L317.70 149.35 L318.79 149.38 L319.89 149.40 L320.98 149.41 L322.08 149.40 L323.18 149.39 L324.27 149.37 L325.37 149.35 L326.46 149.33 L327.56 149.31 L327.88 149.30 L328.66 149.24 L329.75 149.06 L330.25 148.96 L330.85 148.70 L331.94 147.68 L332.98 146.32 L333.04 146.24 L334.13 144.02 L334.80 142.49 L335.23 141.54 L336.33 139.07 L337.42 136.57 L338.52 134.09 L339.35 132.27 L339.61 131.70 L340.71 129.35 L341.81 127.04 L342.90 124.82 L343.90 122.91 L344.00 122.72 L345.09 120.72 L346.19 118.79 L347.29 116.98 L348.38 115.34 L348.45 115.24 L349.48 113.83 L350.57 112.39 L351.67 111.09 L352.77 110.00 L353.00 109.80 L353.86 109.09 L354.96 108.21 L356.05 107.36 L357.15 106.55 L358.25 105.80 L359.34 105.12 L360.44 104.51 L361.53 103.98 L362.10 103.75 L362.63 103.54 L363.72 103.12 L364.82 102.70 L365.92 102.30 L367.01 101.92 L368.11 101.59 L369.20 101.30 L370.30 101.08 L371.20 100.94 L371.40 100.92 L372.49 100.78 L373.59 100.65 L374.68 100.53 L375.78 100.41 L376.88 100.30 L377.97 100.21 L379.07 100.14 L380.16 100.09 L380.30 100.09 L381.26 100.06 L382.36 100.02 L383.45 99.99 L384.55 99.95 L385.64 99.91 L386.74 99.88 L387.84 99.84 L388.93 99.81 L390.03 99.77 L391.12 99.74 L392.22 99.70 L393.31 99.67 L394.41 99.64 L395.51 99.62 L396.60 99.59 L397.70 99.57 L398.79 99.55 L399.89 99.53 L400.99 99.51 L402.08 99.50 L403.18 99.50 L403.96 99.49 L404.27 99.49 L405.37 99.49 L406.47 99.49 L407.56 99.49 L408.66 99.48 L409.75 99.48 L410.85 99.48 L411.95 99.48 L413.04 99.48 L414.14 99.48 L415.23 99.48 L416.33 99.48 L417.43 99.48 L418.52 99.48 L419.62 99.48 L420.71 99.48 L421.81 99.48 L422.91 99.48 L424.00 99.48 L425.10 99.48 L426.19 99.48 L427.29 99.48 L428.38 99.48 L429.48 99.48 L430.58 99.48 L431.67 99.49 L432.77 99.49 L433.86 99.49 L434.90 99.49 L434.96 99.49 L436.06 99.50 L437.15 99.50 L438.25 99.51 L439.34 99.51 L440.44 99.52 L441.54 99.53 L442.63 99.54 L443.73 99.54 L444.82 99.55 L445.92 99.57 L447.02 99.58 L448.11 99.59 L449.21 99.60 L450.30 99.61 L451.40 99.62 L452.50 99.64 L453.59 99.65 L454.69 99.66 L454.92 99.66 L455.78 99.68 L456.88 99.72 L457.97 99.79 L459.07 99.87 L460.17 99.96 L461.26 100.06 L462.36 100.17 L463.45 100.29 L464.02 100.34 L464.55 100.41 L465.65 100.60 L466.74 100.86 L467.84 101.15 L468.93 101.45" fill="none" stroke="#e01c1c" stroke-width="1.35"/>
<path d="M316.60 149.30 L317.70 149.35 L318.79 149.38 L319.89 149.40 L320.98 149.41 L322.08 149.40 L323.18 149.39 L324.27 149.37 L325.37 149.35 L326.46 149.33 L327.56 149.31 L327.88 149.30 L328.66 149.24 L329.75 149.06 L330.25 148.96 L330.85 148.70 L331.94 147.66 L332.98 146.32 L333.04 146.24 L334.13 144.07 L334.80 142.49 L335.23 141.45 L336.33 138.61 L337.42 135.65 L338.52 132.76 L339.35 130.74 L339.61 130.14 L340.71 127.72 L341.81 125.43 L342.90 123.25 L343.90 121.37 L344.00 121.19 L345.09 119.20 L346.19 117.26 L347.29 115.45 L348.38 113.81 L348.45 113.71 L349.48 112.30 L350.57 110.86 L351.67 109.56 L352.77 108.46 L353.00 108.26 L353.86 107.56 L354.96 106.68 L356.05 105.83 L357.15 105.02 L358.25 104.27 L359.34 103.58 L360.44 102.97 L361.53 102.45 L362.10 102.22 L362.63 102.01 L363.72 101.59 L364.82 101.17 L365.92 100.76 L367.01 100.39 L368.11 100.06 L369.20 99.77 L370.30 99.54 L371.20 99.41 L371.40 99.38 L372.49 99.25 L373.59 99.12 L374.68 98.99 L375.78 98.88 L376.88 98.77 L377.97 98.68 L379.07 98.61 L380.16 98.56 L380.30 98.56 L381.26 98.53 L382.36 98.49 L383.45 98.46 L384.55 98.42 L385.64 98.38 L386.74 98.35 L387.84 98.31 L388.93 98.27 L390.03 98.24 L391.12 98.20 L392.22 98.17 L393.31 98.14 L394.41 98.11 L395.51 98.08 L396.60 98.06 L397.70 98.03 L398.79 98.01 L399.89 98.00 L400.99 97.98 L402.08 97.97 L403.18 97.96 L403.96 97.96 L404.27 97.96 L405.37 97.96 L406.47 97.96 L407.56 97.95 L408.66 97.95 L409.75 97.95 L410.85 97.95 L411.95 97.95 L413.04 97.95 L414.14 97.95 L415.23 97.94 L416.33 97.94 L417.43 97.94 L418.52 97.94 L419.62 97.94 L420.71 97.94 L421.81 97.94 L422.91 97.94 L424.00 97.94 L425.10 97.95 L426.19 97.95 L427.29 97.95 L428.38 97.95 L429.48 97.95 L430.58 97.95 L431.67 97.95 L432.77 97.96 L433.86 97.96 L434.90 97.96 L434.96 97.96 L436.06 97.96 L437.15 97.97 L438.25 97.97 L439.34 97.98 L440.44 97.99 L441.54 97.99 L442.63 98.00 L443.73 98.01 L444.82 98.02 L445.92 98.03 L447.02 98.04 L448.11 98.06 L449.21 98.07 L450.30 98.08 L451.40 98.09 L452.50 98.10 L453.59 98.12 L454.69 98.13 L454.92 98.13 L455.78 98.15 L456.88 98.19 L457.97 98.25 L459.07 98.33 L460.17 98.43 L461.26 98.53 L462.36 98.64 L463.45 98.75 L464.02 98.81 L464.55 98.88 L465.65 99.07 L466.74 99.33 L467.84 99.62 L468.93 99.92" fill="none" stroke="#e01c1c" stroke-width="1.1" stroke-dasharray="3.6 2.6"/>
<path d="M316.60 149.30 L317.83 149.35 L319.06 149.39 L320.28 149.41 L321.51 149.41 L322.74 149.40 L323.97 149.38 L325.20 149.36 L326.43 149.33 L327.65 149.30 L327.88 149.30 L328.88 149.21 L330.11 148.99 L330.25 148.96 L331.34 148.31 L332.57 146.87 L332.98 146.32 L333.79 144.83 L334.80 142.49 L335.02 141.97 L336.25 139.01 L337.48 135.91 L338.71 132.70 L339.35 130.99 L339.94 129.39 L341.16 125.85 L342.39 122.26 L343.62 118.92 L343.90 118.22 L344.85 115.97 L346.08 113.23 L347.30 110.67 L348.45 108.43 L348.53 108.28 L349.76 105.96 L350.99 103.74 L352.22 101.69 L353.00 100.51 L353.45 99.89 L354.67 98.24 L355.90 96.71 L357.13 95.28 L357.55 94.81 L358.36 93.92 L359.59 92.61 L360.81 91.36 L362.04 90.18 L362.10 90.13 L363.27 89.04 L364.50 87.90 L365.73 86.78 L366.96 85.70 L368.18 84.66 L369.41 83.70 L370.64 82.83 L371.20 82.47 L371.87 82.05 L373.10 81.33 L374.32 80.64 L375.55 79.99 L376.78 79.37 L378.01 78.79 L379.24 78.24 L380.30 77.78 L380.46 77.71 L381.69 77.18 L382.92 76.65 L384.15 76.12 L385.38 75.62 L386.61 75.16 L387.83 74.77 L389.06 74.45 L389.40 74.38 L390.29 74.20 L391.52 73.97 L392.75 73.75 L393.97 73.53 L395.20 73.33 L396.43 73.13 L397.66 72.95 L398.89 72.77 L400.12 72.59 L401.34 72.43 L402.57 72.26 L403.80 72.11 L405.03 71.96 L406.26 71.81 L407.48 71.67 L407.60 71.65 L408.71 71.52 L409.94 71.38 L411.17 71.24 L412.40 71.11 L413.63 70.97 L414.85 70.84 L416.08 70.70 L417.31 70.57 L418.54 70.44 L419.77 70.31 L420.99 70.18 L422.22 70.05 L423.45 69.93 L424.68 69.81 L425.80 69.69 L425.91 69.68 L427.14 69.56 L428.36 69.44 L429.59 69.32 L430.82 69.20 L432.05 69.08 L433.28 68.96 L434.50 68.84 L435.73 68.72 L436.96 68.61 L438.19 68.49 L439.42 68.38 L440.65 68.27 L441.87 68.17 L443.10 68.06 L444.00 67.99 L444.33 67.96 L445.56 67.86 L446.79 67.76 L448.01 67.66 L449.24 67.57 L450.47 67.48 L451.70 67.39 L452.93 67.31 L454.16 67.24 L455.38 67.19 L456.61 67.14 L456.74 67.14 L457.84 67.12 L459.07 67.12 L460.30 67.13 L461.52 67.17 L462.75 67.22 L463.98 67.29 L465.21 67.37 L466.44 67.45 L467.67 67.54 L468.89 67.64 L470.12 67.73 L471.30 67.82 L471.35 67.82 L472.58 67.94 L473.81 68.09 L475.03 68.27 L476.26 68.47 L477.49 68.69 L478.72 68.93 L479.95 69.18 L480.40 69.27 L481.18 69.44 L482.40 69.76 L483.63 70.12 L484.86 70.53 L486.09 70.96 L487.32 71.40" fill="none" stroke="#1a1a1a" stroke-width="1.4"/>
<path d="M316.60 149.30 L317.83 149.35 L319.06 149.39 L320.28 149.41 L321.51 149.41 L322.74 149.40 L323.97 149.38 L325.20 149.36 L326.43 149.33 L327.65 149.30 L327.88 149.30 L328.88 149.21 L330.11 148.99 L330.25 148.96 L331.34 148.30 L332.57 146.86 L332.98 146.32 L333.79 144.87 L334.80 142.49 L335.02 141.94 L336.25 138.66 L337.48 135.13 L338.71 131.55 L339.35 129.72 L339.94 128.05 L341.16 124.47 L342.39 120.94 L343.62 117.65 L343.90 116.95 L344.85 114.69 L346.08 111.95 L347.30 109.39 L348.45 107.16 L348.53 107.00 L349.76 104.69 L350.99 102.47 L352.22 100.42 L353.00 99.24 L353.45 98.61 L354.67 96.96 L355.90 95.44 L357.13 94.00 L357.55 93.53 L358.36 92.64 L359.59 91.33 L360.81 90.08 L362.04 88.90 L362.10 88.85 L363.27 87.77 L364.50 86.63 L365.73 85.51 L366.96 84.42 L368.18 83.38 L369.41 82.42 L370.64 81.55 L371.20 81.19 L371.87 80.78 L373.10 80.05 L374.32 79.36 L375.55 78.71 L376.78 78.10 L378.01 77.51 L379.24 76.96 L380.30 76.51 L380.46 76.44 L381.69 75.91 L382.92 75.37 L384.15 74.84 L385.38 74.34 L386.61 73.89 L387.83 73.49 L389.06 73.17 L389.40 73.10 L390.29 72.92 L391.52 72.69 L392.75 72.47 L393.97 72.26 L395.20 72.05 L396.43 71.86 L397.66 71.67 L398.89 71.49 L400.12 71.32 L401.34 71.15 L402.57 70.99 L403.80 70.83 L405.03 70.68 L406.26 70.53 L407.48 70.39 L407.60 70.38 L408.71 70.25 L409.94 70.11 L411.17 69.97 L412.40 69.83 L413.63 69.69 L414.85 69.56 L416.08 69.42 L417.31 69.29 L418.54 69.16 L419.77 69.03 L420.99 68.90 L422.22 68.78 L423.45 68.65 L424.68 68.53 L425.80 68.42 L425.91 68.41 L427.14 68.28 L428.36 68.16 L429.59 68.04 L430.82 67.92 L432.05 67.80 L433.28 67.68 L434.50 67.56 L435.73 67.44 L436.96 67.33 L438.19 67.22 L439.42 67.11 L440.65 67.00 L441.87 66.89 L443.10 66.79 L444.00 66.71 L444.33 66.69 L445.56 66.59 L446.79 66.49 L448.01 66.39 L449.24 66.29 L450.47 66.20 L451.70 66.11 L452.93 66.04 L454.16 65.97 L455.38 65.91 L456.61 65.87 L456.74 65.86 L457.84 65.84 L459.07 65.84 L460.30 65.86 L461.52 65.89 L462.75 65.95 L463.98 66.01 L465.21 66.09 L466.44 66.18 L467.67 66.27 L468.89 66.36 L470.12 66.45 L471.30 66.54 L471.35 66.55 L472.58 66.66 L473.81 66.81 L475.03 66.99 L476.26 67.19 L477.49 67.42 L478.72 67.65 L479.95 67.90 L480.40 67.99 L481.18 68.16 L482.40 68.48 L483.63 68.85 L484.86 69.25 L486.09 69.68 L487.32 70.12" fill="none" stroke="#1a1a1a" stroke-width="1.15" stroke-dasharray="3.6 2.6"/>
<path d="M318.8 11.70V150.4H498.60" fill="none" stroke="#333" stroke-width="1.15"/>
<text x="316.20" y="152.40" text-anchor="end" class="tl">0</text>
<text x="316.20" y="118.00" text-anchor="end" class="tl">0.4</text>
<text x="316.20" y="83.60" text-anchor="end" class="tl">0.8</text>
<text x="316.20" y="49.20" text-anchor="end" class="tl">1.2</text>
<text x="316.20" y="14.80" text-anchor="end" class="tl">1.6</text>
<text x="353.00" y="159.2" text-anchor="middle" class="tl">2</text>
<text x="389.40" y="159.2" text-anchor="middle" class="tl">4</text>
<text x="425.80" y="159.2" text-anchor="middle" class="tl">6</text>
<text x="462.20" y="159.2" text-anchor="middle" class="tl">8</text>
<text x="498.60" y="159.2" text-anchor="middle" class="tl">10</text>
<path d="M318.8 149.30h3.2M318.8 114.90h3.2M318.8 80.50h3.2M318.8 46.10h3.2M318.8 11.70h3.2M353.00 150.4v-3.2M389.40 150.4v-3.2M425.80 150.4v-3.2M462.20 150.4v-3.2M498.60 150.4v-3.2" fill="none" stroke="#333" stroke-width="0.9"/>
<path d="M318.8 149.30h1.6M318.8 142.42h1.6M318.8 135.54h1.6M318.8 128.66h1.6M318.8 121.78h1.6M318.8 114.90h1.6M318.8 108.02h1.6M318.8 101.14h1.6M318.8 94.26h1.6M318.8 87.38h1.6M318.8 80.50h1.6M318.8 73.62h1.6M318.8 66.74h1.6M318.8 59.86h1.6M318.8 52.98h1.6M318.8 46.10h1.6M318.8 39.22h1.6M318.8 32.34h1.6M318.8 25.46h1.6M318.8 18.58h1.6M318.8 11.70h1.6M325.70 150.4v-1.6M334.80 150.4v-1.6M343.90 150.4v-1.6M362.10 150.4v-1.6M371.20 150.4v-1.6M380.30 150.4v-1.6M398.50 150.4v-1.6M407.60 150.4v-1.6M416.70 150.4v-1.6M434.90 150.4v-1.6M444.00 150.4v-1.6M453.10 150.4v-1.6M471.30 150.4v-1.6M480.40 150.4v-1.6M489.50 150.4v-1.6" fill="none" stroke="#333" stroke-width="0.6"/>
<text x="409.1" y="167.6" text-anchor="middle" class="tt">Time (ns)</text>
<text transform="translate(293.4 82) rotate(-90)" text-anchor="middle" class="tt">D <tspan class="mx">×</tspan>10<tspan class="sup" dy="-3.8">-8</tspan><tspan dy="3.8"> (m</tspan><tspan class="sup" dy="-3.8">2</tspan><tspan dy="3.8">/s)</tspan></text>
<path d="M325 9.35H353" stroke="#3838ff" stroke-width="1.15"/>
<text transform="translate(358 11.65) scale(0.952 1)" class="lg">Al, C-terminated, T=1000 K</text>
<path d="M325 16.95H353" stroke="#3838ff" stroke-width="1.55" stroke-dasharray="3.9 3.7"/>
<text transform="translate(358 19.25) scale(0.952 1)" class="lg">Al, Si-terminated, T=1000 K</text>
<path d="M325 24.55H353" stroke="#10cc18" stroke-width="1.2"/>
<text transform="translate(358 26.85) scale(0.952 1)" class="lg">Al, C-terminated, T=1200 K</text>
<path d="M325 32.15H353" stroke="#10cc18" stroke-width="1.4" stroke-dasharray="3.9 3.7"/>
<text transform="translate(358 34.45) scale(0.952 1)" class="lg">Al, Si-terminated, T=1200 K</text>
<path d="M325 39.75H353" stroke="#e01c1c" stroke-width="1.6"/>
<text transform="translate(358 42.05) scale(0.952 1)" class="lg">Al, C-terminated, T=1500 K</text>
<path d="M325 47.35H353" stroke="#e01c1c" stroke-width="1.1" stroke-dasharray="3.9 3.7"/>
<text transform="translate(358 49.65) scale(0.952 1)" class="lg">Al, Si-terminated, T=1500 K</text>
<path d="M325 54.95H353" stroke="#3c3c3c" stroke-width="1.85"/>
<text transform="translate(358 57.25) scale(0.952 1)" class="lg">Al, C-terminated, T=2000 K</text>
<path d="M325 62.55H353" stroke="#111" stroke-width="1.0" stroke-dasharray="3.9 3.7"/>
<text transform="translate(358 64.85) scale(0.952 1)" class="lg">Al, Si-terminated, T=2000 K</text>
<path d="M50.26 331.00 L51.22 329.65 L52.18 328.26 L53.14 326.84 L54.10 325.40 L54.96 324.09 L55.06 323.94 L56.01 322.48 L56.97 321.01 L57.93 319.48 L58.89 317.86 L59.65 316.49 L59.85 316.11 L60.81 313.93 L61.76 311.36 L61.91 310.96 L62.72 307.79 L63.44 305.61 L63.68 305.31 L64.64 304.51 L65.25 304.22 L65.60 304.07 L66.56 303.71 L67.05 303.71 L67.51 303.90 L68.47 304.73 L68.86 305.09 L69.43 305.62 L70.39 306.58 L71.35 307.58 L72.31 308.61 L73.26 309.61 L74.22 310.57 L74.27 310.62 L75.18 311.51 L76.14 312.47 L77.10 313.45 L78.06 314.41 L79.01 315.35 L79.97 316.24 L80.93 317.07 L81.89 317.82 L82.85 318.47 L83.30 318.73 L83.81 319.02 L84.76 319.53 L85.72 320.02 L86.68 320.49 L87.64 320.93 L88.60 321.35 L89.56 321.74 L90.51 322.10 L91.47 322.43 L92.43 322.74 L93.39 323.01 L94.35 323.25 L95.03 323.40 L95.31 323.46 L96.26 323.66 L97.22 323.86 L98.18 324.06 L99.14 324.26 L100.10 324.45 L101.06 324.65 L102.01 324.84 L102.97 325.02 L103.93 325.20 L104.89 325.37 L105.85 325.53 L106.81 325.68 L107.76 325.83 L108.72 325.96 L109.68 326.08 L110.64 326.19 L111.60 326.29 L112.18 326.34 L112.56 326.37 L113.51 326.45 L114.47 326.52 L115.43 326.60 L116.39 326.68 L117.35 326.76 L118.31 326.84 L119.26 326.92 L120.22 326.99 L121.18 327.07 L122.14 327.15 L123.10 327.22 L124.06 327.30 L125.01 327.37 L125.97 327.45 L126.93 327.52 L127.89 327.59 L128.85 327.66 L129.81 327.73 L130.76 327.80 L131.72 327.87 L132.68 327.93 L133.64 328.00 L134.60 328.06 L135.56 328.12 L136.51 328.18 L137.47 328.24 L138.43 328.30 L139.39 328.35 L140.35 328.40 L141.31 328.45 L142.26 328.50 L143.22 328.55 L144.18 328.59 L145.14 328.63 L146.10 328.67 L147.06 328.71 L148.01 328.75 L148.28 328.75 L148.97 328.78 L149.93 328.81 L150.89 328.84 L151.85 328.87 L152.81 328.90 L153.76 328.93 L154.72 328.96 L155.68 328.99 L156.64 329.02 L157.60 329.04 L158.56 329.07 L159.51 329.10 L160.47 329.13 L161.43 329.15 L162.39 329.18 L163.35 329.21 L164.31 329.23 L165.26 329.26 L166.22 329.29 L167.18 329.31 L168.14 329.34 L169.10 329.37 L170.06 329.40 L171.01 329.42 L171.74 329.45 L171.97 329.45 L172.93 329.48 L173.89 329.51 L174.85 329.54 L175.81 329.56 L176.76 329.59 L177.72 329.62 L178.68 329.65 L179.64 329.68 L180.60 329.71 L181.56 329.73 L182.51 329.76 L183.47 329.79" fill="none" stroke="#3838ff" stroke-width="1.3"/>
<path d="M50.26 331.00 L51.22 329.65 L52.18 328.26 L53.14 326.84 L54.10 325.40 L54.96 324.09 L55.06 323.94 L56.01 322.48 L56.97 321.01 L57.93 319.48 L58.89 317.86 L59.65 316.49 L59.85 316.11 L60.81 313.93 L61.76 311.36 L61.91 310.96 L62.72 307.79 L63.44 305.61 L63.68 305.31 L64.64 304.51 L65.25 304.22 L65.60 304.07 L66.56 303.71 L67.05 303.71 L67.51 303.90 L68.47 304.73 L68.86 305.09 L69.43 305.63 L70.39 306.59 L71.35 307.61 L72.31 308.63 L73.26 309.64 L74.22 310.57 L74.27 310.62 L75.18 311.46 L76.14 312.37 L77.10 313.27 L78.06 314.16 L79.01 315.01 L79.97 315.83 L80.93 316.59 L81.89 317.27 L82.85 317.88 L83.30 318.13 L83.81 318.40 L84.76 318.90 L85.72 319.38 L86.68 319.84 L87.64 320.28 L88.60 320.70 L89.56 321.10 L90.51 321.46 L91.47 321.81 L92.43 322.12 L93.39 322.40 L94.35 322.64 L95.03 322.79 L95.31 322.85 L96.26 323.06 L97.22 323.26 L98.18 323.46 L99.14 323.66 L100.10 323.86 L101.06 324.05 L102.01 324.24 L102.97 324.42 L103.93 324.60 L104.89 324.77 L105.85 324.93 L106.81 325.08 L107.76 325.23 L108.72 325.36 L109.68 325.48 L110.64 325.59 L111.60 325.68 L112.18 325.73 L112.56 325.76 L113.51 325.84 L114.47 325.92 L115.43 326.00 L116.39 326.08 L117.35 326.16 L118.31 326.23 L119.26 326.31 L120.22 326.39 L121.18 326.47 L122.14 326.54 L123.10 326.62 L124.06 326.69 L125.01 326.77 L125.97 326.84 L126.93 326.92 L127.89 326.99 L128.85 327.06 L129.81 327.13 L130.76 327.20 L131.72 327.26 L132.68 327.33 L133.64 327.39 L134.60 327.46 L135.56 327.52 L136.51 327.58 L137.47 327.64 L138.43 327.69 L139.39 327.75 L140.35 327.80 L141.31 327.85 L142.26 327.90 L143.22 327.94 L144.18 327.99 L145.14 328.03 L146.10 328.07 L147.06 328.11 L148.01 328.14 L148.28 328.15 L148.97 328.17 L149.93 328.20 L150.89 328.24 L151.85 328.27 L152.81 328.30 L153.76 328.33 L154.72 328.35 L155.68 328.38 L156.64 328.41 L157.60 328.44 L158.56 328.47 L159.51 328.49 L160.47 328.52 L161.43 328.55 L162.39 328.58 L163.35 328.60 L164.31 328.63 L165.26 328.66 L166.22 328.68 L167.18 328.71 L168.14 328.74 L169.10 328.76 L170.06 328.79 L171.01 328.82 L171.74 328.84 L171.97 328.85 L172.93 328.88 L173.89 328.90 L174.85 328.93 L175.81 328.96 L176.76 328.99 L177.72 329.02 L178.68 329.05 L179.64 329.07 L180.60 329.10 L181.56 329.13 L182.51 329.16 L183.47 329.19" fill="none" stroke="#3838ff" stroke-width="1.0" stroke-dasharray="3.6 2.6"/>
<path d="M50.26 331.00 L51.27 329.57 L52.28 328.10 L53.29 326.60 L54.30 325.08 L54.96 324.09 L55.31 323.54 L56.33 322.01 L57.34 320.44 L58.35 318.79 L59.36 317.03 L59.65 316.49 L60.37 315.00 L61.38 312.45 L61.91 310.96 L62.39 309.37 L63.40 305.74 L63.44 305.61 L64.41 302.74 L65.42 299.95 L66.43 297.38 L66.60 296.97 L67.44 294.90 L68.13 293.69 L68.45 293.39 L69.22 293.17 L69.46 293.29 L70.47 294.13 L71.02 294.72 L71.48 295.25 L72.49 296.61 L73.50 298.07 L74.51 299.45 L75.35 300.42 L75.52 300.59 L76.53 301.58 L77.54 302.52 L78.55 303.42 L79.56 304.27 L80.57 305.07 L81.58 305.83 L82.59 306.53 L83.60 307.19 L83.84 307.33 L84.61 307.81 L85.62 308.43 L86.63 309.05 L87.64 309.66 L88.65 310.25 L89.66 310.82 L90.67 311.36 L91.69 311.87 L92.70 312.33 L93.71 312.75 L94.72 313.11 L95.03 313.21 L95.73 313.42 L96.74 313.73 L97.75 314.03 L98.76 314.32 L99.77 314.60 L100.78 314.88 L101.79 315.15 L102.80 315.41 L103.81 315.67 L104.82 315.91 L105.83 316.14 L106.84 316.37 L107.85 316.58 L108.86 316.78 L109.87 316.97 L110.88 317.15 L111.89 317.31 L112.18 317.35 L112.90 317.46 L113.91 317.62 L114.92 317.77 L115.93 317.92 L116.94 318.07 L117.95 318.22 L118.96 318.37 L119.97 318.51 L120.98 318.66 L121.99 318.80 L123.00 318.93 L124.01 319.07 L125.02 319.19 L126.03 319.32 L127.04 319.44 L128.06 319.55 L129.07 319.66 L130.08 319.76 L131.09 319.86 L132.03 319.94 L132.10 319.95 L133.11 320.04 L134.12 320.12 L135.13 320.20 L136.14 320.28 L137.15 320.36 L138.16 320.44 L139.17 320.51 L140.18 320.58 L141.19 320.66 L142.20 320.73 L143.21 320.80 L144.22 320.87 L145.23 320.94 L146.24 321.01 L147.25 321.08 L148.26 321.15 L148.28 321.15 L149.27 321.22 L150.28 321.29 L151.29 321.36 L152.30 321.43 L153.31 321.50 L154.32 321.57 L155.33 321.64 L156.34 321.70 L157.35 321.77 L158.36 321.84 L159.37 321.91 L160.38 321.97 L161.39 322.04 L162.40 322.11 L163.41 322.17 L164.43 322.24 L165.44 322.31 L166.32 322.36 L166.45 322.37 L167.46 322.43 L168.47 322.49 L169.48 322.55 L170.49 322.61 L171.50 322.67 L172.51 322.72 L173.52 322.78 L174.53 322.83 L175.54 322.89 L176.55 322.95 L177.56 323.01 L178.57 323.08 L179.58 323.14 L180.59 323.21 L180.77 323.23 L181.60 323.29 L182.61 323.38 L183.62 323.47 L184.63 323.57 L185.64 323.68 L186.65 323.79 L187.66 323.90 L188.67 324.02 L189.68 324.14 L190.69 324.26" fill="none" stroke="#12a85a" stroke-width="1.3"/>
<path d="M50.26 331.00 L51.27 329.57 L52.28 328.10 L53.29 326.60 L54.30 325.08 L54.96 324.09 L55.31 323.54 L56.33 322.01 L57.34 320.44 L58.35 318.79 L59.36 317.03 L59.65 316.49 L60.37 315.00 L61.38 312.45 L61.91 310.96 L62.39 309.37 L63.40 305.74 L63.44 305.61 L64.41 302.74 L65.42 299.95 L66.43 297.38 L66.60 296.97 L67.44 294.90 L68.13 293.69 L68.45 293.39 L69.22 293.17 L69.46 293.29 L70.47 294.13 L71.02 294.72 L71.48 295.25 L72.49 296.59 L73.50 298.04 L74.51 299.42 L75.35 300.42 L75.52 300.60 L76.53 301.66 L77.54 302.68 L78.55 303.66 L79.56 304.60 L80.57 305.49 L81.58 306.32 L82.59 307.09 L83.60 307.79 L83.84 307.94 L84.61 308.43 L85.62 309.07 L86.63 309.69 L87.64 310.31 L88.65 310.90 L89.66 311.47 L90.67 312.00 L91.69 312.50 L92.70 312.95 L93.71 313.36 L94.72 313.71 L95.03 313.81 L95.73 314.02 L96.74 314.32 L97.75 314.62 L98.76 314.91 L99.77 315.20 L100.78 315.47 L101.79 315.74 L102.80 316.01 L103.81 316.26 L104.82 316.51 L105.83 316.74 L106.84 316.97 L107.85 317.18 L108.86 317.38 L109.87 317.57 L110.88 317.75 L111.89 317.91 L112.18 317.96 L112.90 318.07 L113.91 318.22 L114.92 318.37 L115.93 318.53 L116.94 318.68 L117.95 318.83 L118.96 318.97 L119.97 319.12 L120.98 319.26 L121.99 319.40 L123.00 319.54 L124.01 319.67 L125.02 319.80 L126.03 319.92 L127.04 320.04 L128.06 320.16 L129.07 320.27 L130.08 320.37 L131.09 320.46 L132.03 320.55 L132.10 320.55 L133.11 320.64 L134.12 320.72 L135.13 320.81 L136.14 320.89 L137.15 320.96 L138.16 321.04 L139.17 321.12 L140.18 321.19 L141.19 321.26 L142.20 321.33 L143.21 321.41 L144.22 321.48 L145.23 321.55 L146.24 321.62 L147.25 321.69 L148.26 321.76 L148.28 321.76 L149.27 321.83 L150.28 321.90 L151.29 321.97 L152.30 322.04 L153.31 322.10 L154.32 322.17 L155.33 322.24 L156.34 322.31 L157.35 322.38 L158.36 322.45 L159.37 322.51 L160.38 322.58 L161.39 322.65 L162.40 322.71 L163.41 322.78 L164.43 322.84 L165.44 322.91 L166.32 322.97 L166.45 322.97 L167.46 323.04 L168.47 323.10 L169.48 323.16 L170.49 323.21 L171.50 323.27 L172.51 323.33 L173.52 323.38 L174.53 323.44 L175.54 323.50 L176.55 323.56 L177.56 323.62 L178.57 323.68 L179.58 323.75 L180.59 323.82 L180.77 323.83 L181.60 323.89 L182.61 323.98 L183.62 324.07 L184.63 324.17 L185.64 324.28 L186.65 324.39 L187.66 324.51 L188.67 324.62 L189.68 324.75 L190.69 324.87" fill="none" stroke="#12a85a" stroke-width="1.0" stroke-dasharray="3.6 2.6"/>
<path d="M50.26 331.00 L51.35 329.46 L52.44 327.87 L53.53 326.25 L54.62 324.61 L54.96 324.09 L55.70 322.95 L56.79 321.29 L57.88 319.56 L58.97 317.72 L59.65 316.49 L60.06 315.68 L61.15 313.07 L61.91 310.96 L62.23 309.91 L63.32 305.98 L63.44 305.61 L64.41 302.83 L65.50 299.98 L66.59 297.00 L66.60 296.97 L67.67 293.64 L68.76 290.32 L68.86 290.06 L69.85 287.18 L70.94 284.80 L71.02 284.70 L72.03 283.61 L73.12 282.59 L74.20 281.77 L75.29 281.17 L76.08 280.90 L76.38 280.82 L77.47 280.51 L78.56 280.20 L79.64 279.93 L80.73 279.74 L81.82 279.67 L82.39 279.69 L82.91 279.75 L84.00 279.91 L85.09 280.14 L86.17 280.43 L87.26 280.76 L88.35 281.12 L88.71 281.25 L89.44 281.53 L90.53 282.00 L91.61 282.54 L92.70 283.11 L93.79 283.70 L94.88 284.28 L95.03 284.36 L95.97 284.86 L97.06 285.46 L98.14 286.07 L99.23 286.70 L100.32 287.34 L101.41 287.99 L102.50 288.64 L103.59 289.29 L104.67 289.93 L105.76 290.56 L106.85 291.17 L107.94 291.77 L109.03 292.35 L110.11 292.90 L111.20 293.42 L112.18 293.86 L112.29 293.91 L113.38 294.37 L114.47 294.82 L115.56 295.26 L116.64 295.69 L117.73 296.10 L118.82 296.50 L119.91 296.90 L121.00 297.28 L122.08 297.66 L123.17 298.04 L124.26 298.40 L125.35 298.77 L126.44 299.12 L127.53 299.48 L128.61 299.83 L129.70 300.19 L130.79 300.54 L131.88 300.89 L132.03 300.94 L132.97 301.25 L134.05 301.61 L135.14 301.97 L136.23 302.34 L137.32 302.70 L138.41 303.06 L139.50 303.42 L140.58 303.77 L141.67 304.12 L142.76 304.45 L143.85 304.78 L144.94 305.09 L146.02 305.39 L147.11 305.67 L148.20 305.93 L148.28 305.95 L149.29 306.18 L150.38 306.42 L151.47 306.66 L152.55 306.89 L153.64 307.11 L154.73 307.32 L155.82 307.53 L156.91 307.74 L157.99 307.94 L159.08 308.14 L160.17 308.33 L161.26 308.53 L162.35 308.72 L163.44 308.91 L164.52 309.09 L165.61 309.28 L166.32 309.41 L166.70 309.47 L167.79 309.66 L168.88 309.84 L169.96 310.01 L171.05 310.19 L172.14 310.36 L173.23 310.53 L174.32 310.71 L175.41 310.88 L176.49 311.05 L177.58 311.22 L178.67 311.39 L179.76 311.57 L180.85 311.74 L181.94 311.92 L183.02 312.11 L184.11 312.30 L184.38 312.34 L185.20 312.49 L186.29 312.68 L187.38 312.88 L188.46 313.08 L189.55 313.28 L190.64 313.49 L191.73 313.69 L192.82 313.90 L193.91 314.11 L194.99 314.32 L196.08 314.53 L197.17 314.75 L198.26 314.97 L199.35 315.18 L200.43 315.40 L201.52 315.63" fill="none" stroke="#e01c1c" stroke-width="1.35"/>
<path d="M50.26 331.00 L51.35 329.46 L52.44 327.87 L53.53 326.25 L54.62 324.61 L54.96 324.09 L55.70 322.95 L56.79 321.29 L57.88 319.56 L58.97 317.72 L59.65 316.49 L60.06 315.68 L61.15 313.07 L61.91 310.96 L62.23 309.91 L63.32 305.98 L63.44 305.61 L64.41 302.83 L65.50 299.98 L66.59 297.00 L66.60 296.97 L67.67 293.64 L68.76 290.32 L68.86 290.06 L69.85 287.18 L70.94 284.80 L71.02 284.70 L72.03 283.61 L73.12 282.59 L74.20 281.77 L75.29 281.17 L76.08 280.90 L76.38 280.82 L77.47 280.52 L78.56 280.22 L79.64 279.96 L80.73 279.77 L81.82 279.68 L82.39 279.69 L82.91 279.73 L84.00 279.87 L85.09 280.08 L86.17 280.36 L87.26 280.71 L88.35 281.11 L88.71 281.25 L89.44 281.58 L90.53 282.20 L91.61 282.91 L92.70 283.68 L93.79 284.43 L94.88 285.13 L95.03 285.22 L95.97 285.78 L97.06 286.42 L98.14 287.08 L99.23 287.73 L100.32 288.38 L101.41 289.03 L102.50 289.67 L103.59 290.30 L104.67 290.93 L105.76 291.53 L106.85 292.13 L107.94 292.70 L109.03 293.26 L110.11 293.79 L111.20 294.29 L112.18 294.72 L112.29 294.77 L113.38 295.23 L114.47 295.68 L115.56 296.11 L116.64 296.53 L117.73 296.95 L118.82 297.35 L119.91 297.74 L121.00 298.13 L122.08 298.51 L123.17 298.89 L124.26 299.26 L125.35 299.62 L126.44 299.98 L127.53 300.34 L128.61 300.69 L129.70 301.05 L130.79 301.40 L131.88 301.76 L132.03 301.81 L132.97 302.11 L134.05 302.47 L135.14 302.84 L136.23 303.20 L137.32 303.57 L138.41 303.93 L139.50 304.29 L140.58 304.64 L141.67 304.98 L142.76 305.32 L143.85 305.64 L144.94 305.95 L146.02 306.25 L147.11 306.53 L148.20 306.80 L148.28 306.81 L149.29 307.05 L150.38 307.29 L151.47 307.52 L152.55 307.75 L153.64 307.97 L154.73 308.19 L155.82 308.40 L156.91 308.60 L157.99 308.80 L159.08 309.00 L160.17 309.20 L161.26 309.39 L162.35 309.58 L163.44 309.77 L164.52 309.96 L165.61 310.15 L166.32 310.27 L166.70 310.33 L167.79 310.52 L168.88 310.70 L169.96 310.88 L171.05 311.05 L172.14 311.23 L173.23 311.40 L174.32 311.57 L175.41 311.74 L176.49 311.91 L177.58 312.08 L178.67 312.26 L179.76 312.43 L180.85 312.61 L181.94 312.79 L183.02 312.97 L184.11 313.16 L184.38 313.21 L185.20 313.35 L186.29 313.55 L187.38 313.74 L188.46 313.94 L189.55 314.15 L190.64 314.35 L191.73 314.55 L192.82 314.76 L193.91 314.97 L194.99 315.18 L196.08 315.40 L197.17 315.61 L198.26 315.83 L199.35 316.05 L200.43 316.27 L201.52 316.49" fill="none" stroke="#e01c1c" stroke-width="1.25" stroke-dasharray="3.6 2.6"/>
<path d="M50.26 331.00 L51.48 329.27 L52.70 327.49 L53.91 325.67 L54.96 324.09 L55.13 323.83 L56.35 321.97 L57.56 320.07 L58.78 318.05 L59.65 316.49 L60.00 315.80 L61.21 312.89 L61.91 310.96 L62.43 309.21 L63.44 305.61 L63.65 304.98 L64.86 301.63 L66.08 298.42 L66.60 296.97 L67.30 294.84 L68.51 291.05 L68.86 290.06 L69.73 287.71 L70.95 284.56 L71.02 284.36 L72.17 281.21 L73.38 277.86 L74.60 274.45 L75.82 270.96 L77.03 267.35 L78.25 263.60 L78.78 261.90 L79.47 259.60 L80.68 255.13 L81.90 250.37 L83.12 245.57 L84.33 240.98 L85.55 236.83 L85.82 235.99 L86.77 233.15 L87.98 229.59 L89.20 226.22 L90.42 223.13 L91.63 220.41 L92.85 218.16 L93.04 217.85 L94.07 216.27 L95.28 214.53 L96.50 213.01 L97.72 211.81 L98.46 211.28 L98.93 210.99 L100.15 210.20 L101.37 209.53 L102.58 209.19 L103.15 209.21 L103.80 209.33 L105.02 209.63 L106.23 210.01 L107.45 210.44 L108.67 210.87 L109.88 211.27 L111.10 211.60 L112.18 211.80 L112.32 211.82 L113.53 211.99 L114.75 212.16 L115.97 212.32 L117.18 212.47 L118.40 212.62 L119.62 212.76 L120.84 212.90 L122.05 213.04 L123.27 213.18 L124.49 213.32 L125.70 213.46 L126.92 213.60 L128.14 213.75 L129.14 213.88 L129.35 213.90 L130.57 214.06 L131.79 214.22 L133.00 214.38 L134.22 214.55 L135.44 214.71 L136.65 214.88 L137.87 215.04 L139.09 215.21 L140.30 215.37 L141.52 215.53 L142.74 215.68 L143.95 215.83 L145.17 215.97 L146.39 216.10 L147.60 216.23 L148.28 216.29 L148.82 216.34 L150.04 216.41 L151.25 216.45 L152.47 216.46 L153.69 216.48 L154.90 216.50 L156.12 216.55 L157.30 216.64 L157.34 216.64 L158.55 216.77 L159.77 216.91 L160.99 217.07 L162.20 217.25 L163.42 217.43 L164.64 217.63 L165.85 217.84 L167.07 218.05 L168.29 218.27 L169.51 218.50 L170.72 218.72 L171.94 218.95 L173.16 219.18 L174.37 219.40 L175.35 219.58 L175.59 219.62 L176.81 219.84 L178.02 220.07 L179.24 220.30 L180.46 220.54 L181.67 220.78 L182.89 221.02 L184.11 221.25 L184.38 221.30 L185.32 221.48 L186.54 221.71 L187.76 221.93 L188.97 222.15 L190.19 222.38 L191.41 222.61 L192.62 222.86 L193.40 223.03 L193.84 223.13 L195.06 223.45 L196.27 223.82 L197.49 224.24 L198.71 224.71 L198.82 224.76 L199.92 225.27 L201.14 225.92 L202.36 226.62 L203.57 227.33 L204.23 227.70 L204.79 228.00 L206.01 228.66 L207.22 229.31 L208.44 229.98 L209.66 230.65 L210.87 231.34 L211.45 231.67 L212.09 232.05 L213.31 232.78 L214.52 233.53 L215.74 234.30 L216.96 235.08 L218.18 235.87 L219.39 236.68" fill="none" stroke="#1a1a1a" stroke-width="1.2"/>
<path d="M50.26 331.00 L51.48 329.27 L52.70 327.49 L53.91 325.67 L54.96 324.09 L55.13 323.83 L56.35 321.97 L57.56 320.07 L58.78 318.05 L59.65 316.49 L60.00 315.80 L61.21 312.89 L61.91 310.96 L62.43 309.21 L63.44 305.61 L63.65 304.99 L64.86 301.76 L66.08 298.70 L66.60 297.31 L67.30 295.29 L68.51 291.70 L68.86 290.75 L69.73 288.47 L70.95 285.41 L71.02 285.22 L72.17 282.29 L73.38 279.19 L74.60 276.08 L75.82 272.91 L77.03 269.63 L78.06 266.74 L78.25 266.19 L79.47 262.47 L80.68 258.51 L81.90 254.44 L83.12 250.41 L84.33 246.56 L85.10 244.28 L85.55 242.99 L86.77 239.50 L87.98 236.08 L89.20 232.81 L90.42 229.76 L91.63 227.01 L92.32 225.62 L92.85 224.60 L94.07 222.32 L95.28 220.15 L96.50 218.16 L97.72 216.42 L98.93 214.98 L99.54 214.39 L100.15 213.84 L101.37 212.73 L102.58 211.67 L103.80 210.74 L105.02 210.03 L106.23 209.62 L106.76 209.56 L107.45 209.53 L108.67 209.49 L109.88 209.47 L111.10 209.49 L112.32 209.55 L113.53 209.67 L113.98 209.73 L114.75 209.84 L115.97 210.02 L117.18 210.21 L118.40 210.40 L119.62 210.60 L120.84 210.80 L122.05 211.00 L123.27 211.20 L124.49 211.41 L125.70 211.61 L126.92 211.80 L128.14 211.99 L129.14 212.15 L129.35 212.18 L130.57 212.36 L131.79 212.55 L133.00 212.73 L134.22 212.91 L135.44 213.09 L136.65 213.27 L137.87 213.45 L139.09 213.63 L140.30 213.81 L141.52 213.98 L142.74 214.16 L143.95 214.33 L145.17 214.50 L146.39 214.66 L147.60 214.82 L148.28 214.91 L148.82 214.98 L150.04 215.13 L151.25 215.26 L152.47 215.39 L153.69 215.52 L154.90 215.65 L156.12 215.79 L157.30 215.95 L157.34 215.95 L158.55 216.13 L159.77 216.31 L160.99 216.49 L162.20 216.69 L163.42 216.89 L164.64 217.09 L165.85 217.30 L167.07 217.52 L168.29 217.74 L169.51 217.96 L170.72 218.19 L171.94 218.41 L173.16 218.64 L174.37 218.87 L175.35 219.06 L175.59 219.10 L176.81 219.34 L178.02 219.59 L179.24 219.84 L180.46 220.10 L181.67 220.37 L182.89 220.63 L184.11 220.90 L184.38 220.96 L185.32 221.16 L186.54 221.43 L187.76 221.70 L188.97 221.97 L190.19 222.25 L191.41 222.54 L192.62 222.84 L193.40 223.03 L193.84 223.14 L195.06 223.48 L196.27 223.84 L197.49 224.25 L198.71 224.72 L198.82 224.76 L199.92 225.26 L201.14 225.92 L202.36 226.62 L203.57 227.33 L204.23 227.70 L204.79 228.00 L206.01 228.66 L207.22 229.31 L208.44 229.98 L209.66 230.65 L210.87 231.34 L211.45 231.67 L212.09 232.05 L213.31 232.78 L214.52 233.53 L215.74 234.30 L216.96 235.08 L218.18 235.87 L219.39 236.68" fill="none" stroke="#1a1a1a" stroke-width="1.3" stroke-dasharray="3.6 2.6"/>
<path d="M50.4 192.80V331H229.50" fill="none" stroke="#333" stroke-width="1.15"/>
<text x="47.80" y="334.10" text-anchor="end" class="tl">0</text>
<text x="47.80" y="299.55" text-anchor="end" class="tl">0.0002</text>
<text x="47.80" y="265.00" text-anchor="end" class="tl">0.0004</text>
<text x="47.80" y="230.45" text-anchor="end" class="tl">0.0006</text>
<text x="47.80" y="195.90" text-anchor="end" class="tl">0.0008</text>
<text x="85.10" y="339.1" text-anchor="middle" class="tl">2</text>
<text x="121.20" y="339.1" text-anchor="middle" class="tl">4</text>
<text x="157.30" y="339.1" text-anchor="middle" class="tl">6</text>
<text x="193.40" y="339.1" text-anchor="middle" class="tl">8</text>
<text x="229.50" y="339.1" text-anchor="middle" class="tl">10</text>
<path d="M50.4 331.00h3.2M50.4 296.45h3.2M50.4 261.90h3.2M50.4 227.35h3.2M50.4 192.80h3.2M85.10 331v-3.2M121.20 331v-3.2M157.30 331v-3.2M193.40 331v-3.2M229.50 331v-3.2" fill="none" stroke="#333" stroke-width="0.9"/>
<path d="M50.4 331.00h1.6M50.4 322.36h1.6M50.4 313.73h1.6M50.4 305.09h1.6M50.4 296.45h1.6M50.4 287.81h1.6M50.4 279.18h1.6M50.4 270.54h1.6M50.4 261.90h1.6M50.4 253.26h1.6M50.4 244.62h1.6M50.4 235.99h1.6M50.4 227.35h1.6M50.4 218.71h1.6M50.4 210.07h1.6M50.4 201.44h1.6M50.4 192.80h1.6M58.02 331v-1.6M67.05 331v-1.6M76.08 331v-1.6M94.12 331v-1.6M103.15 331v-1.6M112.18 331v-1.6M130.23 331v-1.6M139.25 331v-1.6M148.28 331v-1.6M166.32 331v-1.6M175.35 331v-1.6M184.38 331v-1.6M202.43 331v-1.6M211.45 331v-1.6M220.47 331v-1.6" fill="none" stroke="#333" stroke-width="0.6"/>
<text x="140.3" y="348" text-anchor="middle" class="tt">Time (ns)</text>
<text transform="translate(16 262) rotate(-90)" text-anchor="middle" class="tt">D <tspan class="mx">×</tspan>10<tspan class="sup" dy="-3.8">-8</tspan><tspan dy="3.8"> (m</tspan><tspan class="sup" dy="-3.8">2</tspan><tspan dy="3.8">/s)</tspan></text>
<path d="M93.6 231.50H121.8" stroke="#3838ff" stroke-width="1.7"/>
<text transform="translate(126.9 233.80) scale(0.952 1)" class="lg">Si, C-terminated, T=1000 K</text>
<path d="M93.6 239.05H121.8" stroke="#3838ff" stroke-width="1.0" stroke-dasharray="3.9 3.7"/>
<text transform="translate(126.9 241.35) scale(0.952 1)" class="lg">Si, Si-terminated, T=1000 K</text>
<path d="M93.6 246.60H121.8" stroke="#12a85a" stroke-width="1.7"/>
<text transform="translate(126.9 248.90) scale(0.952 1)" class="lg">Si, C-terminated, T=1200 K</text>
<path d="M93.6 254.15H121.8" stroke="#12a85a" stroke-width="1.0" stroke-dasharray="3.9 3.7"/>
<text transform="translate(126.9 256.45) scale(0.952 1)" class="lg">Si, Si-terminated, T=1200 K</text>
<path d="M93.6 261.70H121.8" stroke="#e01c1c" stroke-width="1.7"/>
<text transform="translate(126.9 264.00) scale(0.952 1)" class="lg">Si, C-terminated, T=1500 K</text>
<path d="M93.6 269.25H121.8" stroke="#e01c1c" stroke-width="1.4" stroke-dasharray="3.9 3.7"/>
<text transform="translate(126.9 271.55) scale(0.952 1)" class="lg">Si, Si-terminated, T=1500 K</text>
<path d="M93.6 276.80H121.8" stroke="#111" stroke-width="1.25"/>
<text transform="translate(126.9 279.10) scale(0.952 1)" class="lg">Si, C-terminated, T=2000 K</text>
<path d="M93.6 284.35H121.8" stroke="#333" stroke-width="1.45" stroke-dasharray="3.9 3.7"/>
<text transform="translate(126.9 286.65) scale(0.952 1)" class="lg">Si, Si-terminated, T=2000 K</text>
<path d="M321.60 331.00 L322.56 329.86 L323.51 328.56 L324.47 327.12 L325.42 325.56 L326.38 323.89 L327.33 322.12 L328.29 320.29 L329.25 318.40 L330.20 316.46 L330.96 314.91 L331.16 314.49 L332.11 311.97 L333.07 309.09 L334.02 306.37 L334.98 304.36 L335.10 304.19 L335.94 303.14 L336.89 302.39 L337.44 302.28 L337.85 302.33 L338.80 302.56 L339.76 302.97 L340.71 303.56 L340.86 303.67 L341.67 304.31 L342.63 305.19 L343.58 306.15 L344.54 307.17 L345.49 308.20 L346.45 309.20 L347.40 310.15 L347.88 310.59 L348.36 311.02 L349.31 311.89 L350.27 312.77 L351.23 313.64 L352.18 314.49 L353.14 315.29 L354.09 316.04 L355.05 316.72 L356.00 317.32 L356.34 317.51 L356.96 317.83 L357.92 318.32 L358.87 318.79 L359.83 319.24 L360.78 319.67 L361.74 320.08 L362.69 320.46 L363.65 320.82 L364.61 321.15 L365.56 321.46 L366.52 321.74 L367.47 322.00 L367.50 322.00 L368.43 322.24 L369.38 322.47 L370.34 322.70 L371.30 322.93 L372.25 323.15 L373.21 323.36 L374.16 323.57 L375.12 323.77 L376.07 323.95 L377.03 324.13 L377.99 324.29 L378.84 324.43 L378.94 324.44 L379.90 324.58 L380.85 324.72 L381.81 324.86 L382.76 325.00 L383.72 325.13 L384.68 325.26 L385.63 325.39 L386.59 325.52 L387.54 325.64 L388.50 325.76 L389.45 325.88 L390.41 326.00 L391.36 326.12 L392.32 326.24 L393.06 326.33 L393.28 326.36 L394.23 326.48 L395.19 326.60 L396.14 326.73 L397.10 326.86 L398.05 326.99 L399.01 327.12 L399.97 327.25 L400.92 327.38 L401.88 327.51 L402.83 327.63 L403.79 327.74 L404.74 327.84 L405.70 327.94 L406.66 328.03 L407.61 328.11 L408.57 328.17 L409.52 328.22 L409.80 328.23 L410.48 328.26 L411.43 328.30 L412.39 328.33 L413.35 328.36 L414.30 328.39 L415.26 328.42 L416.21 328.45 L417.17 328.48 L418.12 328.50 L419.08 328.52 L420.04 328.55 L420.99 328.57 L421.95 328.59 L422.90 328.61 L423.86 328.63 L424.81 328.65 L425.77 328.67 L426.73 328.69 L427.68 328.71 L428.64 328.73 L429.59 328.75 L429.60 328.75 L430.55 328.77 L431.50 328.79 L432.46 328.81 L433.41 328.83 L434.37 328.86 L435.33 328.88 L436.28 328.90 L437.24 328.92 L438.19 328.94 L439.15 328.96 L440.10 328.98 L441.06 329.00 L442.02 329.02 L442.97 329.04 L443.93 329.06 L444.88 329.08 L445.84 329.10 L446.79 329.12 L447.75 329.14 L448.71 329.16 L449.66 329.18 L450.62 329.20 L451.57 329.22 L452.53 329.24 L453.48 329.25 L454.44 329.27" fill="none" stroke="#3838ff" stroke-width="1.1"/>
<path d="M321.60 331.00 L322.56 329.86 L323.51 328.56 L324.47 327.12 L325.42 325.56 L326.38 323.89 L327.33 322.12 L328.29 320.29 L329.25 318.40 L330.20 316.46 L330.96 314.91 L331.16 314.49 L332.11 311.97 L333.07 309.09 L334.02 306.37 L334.98 304.36 L335.10 304.19 L335.94 303.14 L336.89 302.39 L337.44 302.28 L337.85 302.33 L338.80 302.56 L339.76 302.97 L340.71 303.56 L340.86 303.67 L341.67 304.31 L342.63 305.19 L343.58 306.15 L344.54 307.17 L345.49 308.20 L346.45 309.20 L347.40 310.15 L347.88 310.59 L348.36 311.02 L349.31 311.88 L350.27 312.76 L351.23 313.62 L352.18 314.46 L353.14 315.26 L354.09 316.01 L355.05 316.70 L356.00 317.31 L356.34 317.51 L356.96 317.85 L357.92 318.37 L358.87 318.88 L359.83 319.37 L360.78 319.83 L361.74 320.27 L362.69 320.69 L363.65 321.08 L364.61 321.45 L365.56 321.78 L366.52 322.08 L367.47 322.34 L367.50 322.35 L368.43 322.59 L369.38 322.83 L370.34 323.06 L371.30 323.29 L372.25 323.51 L373.21 323.72 L374.16 323.92 L375.12 324.12 L376.07 324.30 L377.03 324.48 L377.99 324.64 L378.84 324.77 L378.94 324.79 L379.90 324.93 L380.85 325.07 L381.81 325.21 L382.76 325.34 L383.72 325.47 L384.68 325.60 L385.63 325.73 L386.59 325.86 L387.54 325.98 L388.50 326.11 L389.45 326.23 L390.41 326.35 L391.36 326.47 L392.32 326.58 L393.06 326.68 L393.28 326.70 L394.23 326.82 L395.19 326.95 L396.14 327.08 L397.10 327.21 L398.05 327.34 L399.01 327.47 L399.97 327.60 L400.92 327.73 L401.88 327.85 L402.83 327.97 L403.79 328.09 L404.74 328.19 L405.70 328.29 L406.66 328.38 L407.61 328.45 L408.57 328.52 L409.52 328.57 L409.80 328.58 L410.48 328.61 L411.43 328.64 L412.39 328.68 L413.35 328.71 L414.30 328.74 L415.26 328.77 L416.21 328.80 L417.17 328.82 L418.12 328.85 L419.08 328.87 L420.04 328.89 L420.99 328.91 L421.95 328.94 L422.90 328.96 L423.86 328.98 L424.81 329.00 L425.77 329.02 L426.73 329.04 L427.68 329.06 L428.64 329.08 L429.59 329.10 L429.60 329.10 L430.55 329.12 L431.50 329.14 L432.46 329.16 L433.41 329.18 L434.37 329.20 L435.33 329.22 L436.28 329.24 L437.24 329.26 L438.19 329.29 L439.15 329.31 L440.10 329.33 L441.06 329.35 L442.02 329.37 L442.97 329.39 L443.93 329.41 L444.88 329.43 L445.84 329.45 L446.79 329.47 L447.75 329.49 L448.71 329.51 L449.66 329.53 L450.62 329.55 L451.57 329.56 L452.53 329.58 L453.48 329.60 L454.44 329.62" fill="none" stroke="#3838ff" stroke-width="1.3" stroke-dasharray="3.6 2.6"/>
<path d="M321.60 331.00 L322.61 329.89 L323.61 328.59 L324.62 327.10 L325.62 325.46 L326.63 323.68 L327.64 321.78 L328.64 319.78 L329.65 317.70 L330.66 315.57 L330.96 314.91 L331.66 313.28 L332.67 310.61 L333.67 307.73 L334.68 304.84 L335.10 303.67 L335.69 301.94 L336.69 298.75 L337.70 295.92 L338.34 294.67 L338.71 294.15 L339.71 293.24 L340.14 293.29 L340.72 293.66 L341.72 294.52 L342.30 295.02 L342.73 295.37 L343.74 296.19 L344.74 297.03 L345.75 297.88 L346.44 298.48 L346.75 298.76 L347.76 299.71 L348.77 300.71 L349.77 301.74 L350.78 302.78 L351.79 303.78 L352.79 304.74 L353.80 305.61 L354.80 306.37 L354.90 306.43 L355.81 307.05 L356.82 307.70 L357.82 308.32 L358.83 308.92 L359.84 309.47 L360.84 309.98 L361.85 310.44 L362.85 310.84 L363.86 311.19 L364.80 311.45 L364.87 311.47 L365.87 311.71 L366.88 311.95 L367.88 312.17 L368.89 312.39 L369.90 312.61 L370.90 312.81 L371.91 313.01 L372.92 313.20 L373.92 313.39 L374.93 313.57 L375.93 313.74 L376.94 313.91 L377.95 314.08 L378.84 314.22 L378.95 314.24 L379.96 314.40 L380.97 314.56 L381.97 314.72 L382.98 314.88 L383.98 315.03 L384.99 315.19 L386.00 315.35 L387.00 315.50 L388.01 315.65 L389.01 315.79 L390.02 315.92 L391.03 316.05 L392.03 316.18 L393.04 316.29 L393.06 316.30 L394.05 316.40 L395.05 316.51 L396.06 316.61 L397.06 316.72 L398.07 316.82 L399.08 316.92 L400.08 317.01 L401.09 317.11 L402.09 317.20 L403.10 317.29 L404.11 317.38 L405.11 317.47 L406.12 317.55 L407.13 317.64 L408.13 317.72 L409.14 317.80 L409.80 317.85 L410.14 317.88 L411.15 317.96 L412.16 318.03 L413.16 318.10 L414.17 318.17 L415.18 318.24 L416.18 318.31 L417.19 318.38 L418.19 318.45 L419.20 318.51 L420.21 318.58 L421.21 318.65 L422.22 318.71 L423.22 318.78 L424.23 318.85 L425.24 318.92 L426.24 318.99 L427.25 319.06 L428.26 319.13 L429.26 319.21 L429.60 319.24 L430.27 319.29 L431.27 319.37 L432.28 319.44 L433.29 319.52 L434.29 319.61 L435.30 319.69 L436.31 319.77 L437.31 319.85 L438.32 319.94 L439.32 320.03 L440.33 320.11 L441.34 320.20 L442.34 320.29 L443.35 320.39 L444.35 320.48 L445.36 320.57 L446.37 320.67 L447.37 320.77 L447.60 320.79 L448.38 320.87 L449.39 320.98 L450.39 321.09 L451.40 321.21 L452.40 321.32 L453.41 321.45 L454.42 321.57 L455.42 321.70 L456.43 321.83 L457.44 321.97 L458.44 322.11 L459.45 322.24 L460.45 322.38 L461.46 322.52" fill="none" stroke="#12a85a" stroke-width="1.15"/>
<path d="M321.60 331.00 L322.61 329.89 L323.62 328.58 L324.63 327.09 L325.64 325.43 L326.65 323.65 L327.66 321.74 L328.67 319.73 L329.68 317.64 L330.69 315.49 L330.96 314.91 L331.70 313.18 L332.71 310.49 L333.72 307.60 L334.73 304.69 L335.10 303.67 L335.74 301.77 L336.75 298.57 L337.76 295.78 L338.34 294.67 L338.77 294.06 L339.78 293.23 L340.14 293.29 L340.79 293.70 L341.80 294.57 L342.30 295.02 L342.81 295.47 L343.82 296.37 L344.83 297.30 L345.84 298.25 L346.44 298.82 L346.85 299.22 L347.86 300.25 L348.87 301.34 L349.88 302.44 L350.89 303.53 L351.90 304.60 L352.91 305.60 L353.92 306.52 L354.90 307.30 L354.93 307.32 L355.94 308.05 L356.95 308.74 L357.96 309.39 L358.97 310.01 L359.98 310.59 L360.99 311.14 L362.00 311.64 L363.01 312.11 L364.02 312.54 L364.80 312.83 L365.03 312.92 L366.04 313.29 L367.05 313.67 L368.06 314.03 L369.07 314.40 L370.08 314.75 L371.09 315.09 L372.10 315.43 L373.11 315.74 L374.12 316.04 L375.13 316.33 L376.14 316.59 L377.15 316.82 L378.16 317.03 L378.84 317.16 L379.17 317.22 L380.18 317.39 L381.19 317.56 L382.20 317.73 L383.21 317.89 L384.22 318.04 L385.23 318.19 L386.24 318.34 L387.25 318.48 L388.26 318.62 L389.27 318.75 L390.28 318.89 L391.29 319.02 L392.31 319.14 L393.06 319.24 L393.32 319.27 L394.33 319.39 L395.34 319.52 L396.35 319.66 L397.36 319.79 L398.37 319.92 L399.38 320.06 L400.39 320.19 L401.40 320.31 L402.41 320.44 L403.42 320.56 L404.43 320.67 L405.44 320.78 L406.45 320.88 L407.46 320.97 L408.47 321.05 L409.48 321.12 L409.80 321.14 L410.49 321.18 L411.50 321.23 L412.51 321.27 L413.52 321.30 L414.53 321.33 L415.54 321.35 L416.55 321.37 L417.56 321.39 L418.57 321.40 L419.58 321.41 L420.59 321.42 L421.60 321.43 L422.61 321.45 L423.62 321.46 L424.63 321.48 L425.64 321.50 L426.65 321.53 L427.66 321.57 L428.67 321.61 L429.60 321.66 L429.68 321.66 L430.69 321.72 L431.70 321.78 L432.71 321.84 L433.72 321.91 L434.73 321.98 L435.74 322.05 L436.75 322.13 L437.76 322.21 L438.77 322.29 L439.78 322.37 L440.79 322.45 L441.80 322.53 L442.81 322.62 L443.82 322.71 L444.83 322.80 L445.84 322.89 L446.85 322.98 L447.60 323.04 L447.86 323.07 L448.87 323.16 L449.88 323.25 L450.89 323.35 L451.90 323.46 L452.91 323.56 L453.92 323.67 L454.93 323.78 L455.94 323.89 L456.95 324.00 L457.96 324.12 L458.97 324.24 L459.98 324.36 L460.99 324.48 L462.00 324.60" fill="none" stroke="#12a85a" stroke-width="1.25" stroke-dasharray="3.6 2.6"/>
<path d="M321.60 331.00 L322.69 329.79 L323.77 328.33 L324.86 326.67 L325.95 324.83 L327.03 322.84 L328.12 320.74 L329.21 318.55 L330.29 316.30 L330.96 314.91 L331.38 314.00 L332.46 311.32 L333.55 308.29 L334.64 305.07 L335.10 303.67 L335.72 301.62 L336.81 297.69 L337.90 294.05 L337.98 293.81 L338.98 290.89 L340.07 287.87 L341.16 285.39 L342.12 283.94 L342.24 283.82 L343.33 282.75 L344.42 281.80 L345.50 280.99 L346.59 280.38 L347.68 280.01 L347.88 279.96 L348.76 279.80 L349.85 279.59 L350.93 279.39 L352.02 279.23 L353.11 279.12 L354.19 279.08 L354.90 279.10 L355.28 279.13 L356.37 279.22 L357.45 279.35 L358.54 279.51 L359.63 279.70 L360.71 279.91 L361.80 280.16 L362.89 280.44 L363.97 280.75 L364.80 281.00 L365.06 281.09 L366.15 281.48 L367.23 281.93 L368.32 282.42 L369.40 282.96 L370.49 283.53 L371.58 284.13 L372.66 284.74 L373.75 285.35 L374.84 285.97 L375.92 286.58 L377.01 287.17 L378.10 287.73 L378.84 288.10 L379.18 288.26 L380.27 288.79 L381.36 289.31 L382.44 289.84 L383.53 290.36 L384.62 290.88 L385.70 291.40 L386.79 291.91 L387.87 292.41 L388.96 292.90 L390.05 293.39 L391.13 293.86 L392.22 294.32 L393.06 294.67 L393.31 294.77 L394.39 295.22 L395.48 295.66 L396.57 296.10 L397.65 296.54 L398.74 296.98 L399.83 297.41 L400.91 297.83 L402.00 298.24 L403.09 298.64 L404.17 299.02 L405.26 299.39 L406.35 299.74 L407.43 300.07 L408.52 300.39 L409.60 300.68 L409.80 300.73 L410.69 300.94 L411.78 301.19 L412.86 301.43 L413.95 301.65 L415.04 301.86 L416.12 302.07 L417.21 302.26 L418.30 302.45 L419.38 302.63 L420.47 302.82 L421.56 303.00 L422.64 303.18 L423.73 303.37 L424.82 303.57 L425.90 303.77 L426.99 303.98 L428.07 304.20 L429.16 304.43 L429.60 304.53 L430.25 304.68 L431.33 304.94 L432.42 305.20 L433.51 305.47 L434.59 305.75 L435.68 306.03 L436.77 306.31 L437.85 306.60 L438.94 306.88 L440.03 307.17 L441.11 307.45 L442.20 307.73 L443.29 308.00 L444.37 308.27 L445.46 308.53 L446.54 308.79 L447.60 309.03 L447.63 309.04 L448.72 309.28 L449.80 309.52 L450.89 309.75 L451.98 309.99 L453.06 310.23 L454.15 310.46 L455.24 310.69 L456.32 310.92 L457.41 311.15 L458.50 311.37 L459.58 311.59 L460.67 311.81 L461.76 312.03 L462.84 312.25 L463.93 312.46 L465.01 312.67 L466.10 312.87 L467.19 313.08 L468.27 313.28 L469.36 313.47 L470.45 313.67 L471.53 313.86 L472.62 314.05" fill="none" stroke="#e01c1c" stroke-width="1.35"/>
<path d="M321.60 331.00 L322.69 329.79 L323.77 328.33 L324.86 326.67 L325.95 324.83 L327.03 322.84 L328.12 320.74 L329.21 318.55 L330.29 316.30 L330.96 314.91 L331.38 314.00 L332.46 311.32 L333.55 308.29 L334.64 305.07 L335.10 303.67 L335.72 301.62 L336.81 297.69 L337.90 294.05 L337.98 293.81 L338.98 290.89 L340.07 287.87 L341.16 285.39 L342.12 283.94 L342.24 283.82 L343.33 282.76 L344.42 281.81 L345.50 281.01 L346.59 280.40 L347.68 280.01 L347.88 279.96 L348.76 279.78 L349.85 279.55 L350.93 279.33 L352.02 279.16 L353.11 279.05 L354.19 279.04 L354.90 279.10 L355.28 279.15 L356.37 279.32 L357.45 279.54 L358.54 279.80 L359.63 280.09 L360.71 280.42 L361.80 280.77 L362.89 281.15 L363.97 281.55 L364.80 281.87 L365.06 281.97 L366.15 282.42 L367.23 282.91 L368.32 283.43 L369.40 283.97 L370.49 284.54 L371.58 285.12 L372.66 285.71 L373.75 286.30 L374.84 286.89 L375.92 287.47 L377.01 288.04 L378.10 288.60 L378.84 288.96 L379.18 289.13 L380.27 289.65 L381.36 290.18 L382.44 290.70 L383.53 291.23 L384.62 291.75 L385.70 292.26 L386.79 292.77 L387.87 293.28 L388.96 293.77 L390.05 294.25 L391.13 294.73 L392.22 295.19 L393.06 295.54 L393.31 295.64 L394.39 296.08 L395.48 296.53 L396.57 296.97 L397.65 297.41 L398.74 297.84 L399.83 298.27 L400.91 298.69 L402.00 299.10 L403.09 299.50 L404.17 299.88 L405.26 300.25 L406.35 300.61 L407.43 300.94 L408.52 301.25 L409.60 301.54 L409.80 301.59 L410.69 301.81 L411.78 302.06 L412.86 302.30 L413.95 302.52 L415.04 302.73 L416.12 302.93 L417.21 303.13 L418.30 303.31 L419.38 303.50 L420.47 303.68 L421.56 303.86 L422.64 304.05 L423.73 304.24 L424.82 304.43 L425.90 304.63 L426.99 304.84 L428.07 305.06 L429.16 305.30 L429.60 305.40 L430.25 305.55 L431.33 305.80 L432.42 306.07 L433.51 306.34 L434.59 306.61 L435.68 306.89 L436.77 307.18 L437.85 307.46 L438.94 307.75 L440.03 308.03 L441.11 308.31 L442.20 308.59 L443.29 308.87 L444.37 309.14 L445.46 309.40 L446.54 309.65 L447.60 309.89 L447.63 309.90 L448.72 310.14 L449.80 310.38 L450.89 310.62 L451.98 310.86 L453.06 311.09 L454.15 311.32 L455.24 311.56 L456.32 311.78 L457.41 312.01 L458.50 312.24 L459.58 312.46 L460.67 312.68 L461.76 312.90 L462.84 313.11 L463.93 313.32 L465.01 313.53 L466.10 313.74 L467.19 313.94 L468.27 314.14 L469.36 314.34 L470.45 314.53 L471.53 314.72 L472.62 314.91" fill="none" stroke="#e01c1c" stroke-width="1.1" stroke-dasharray="3.6 2.6"/>
<path d="M321.60 331.00 L322.82 329.63 L324.03 327.96 L325.25 326.03 L326.46 323.90 L327.68 321.60 L328.90 319.18 L330.11 316.68 L330.96 314.91 L331.33 314.11 L332.54 311.11 L333.76 307.69 L334.98 304.04 L335.10 303.67 L336.19 299.94 L337.41 295.58 L337.98 293.81 L338.62 292.05 L339.84 289.01 L341.06 286.24 L342.12 283.94 L342.27 283.63 L343.49 281.54 L344.70 279.78 L345.92 277.70 L346.80 275.64 L347.14 274.65 L348.35 270.07 L349.57 264.51 L350.78 258.78 L351.48 255.75 L352.00 253.56 L353.22 248.27 L354.43 243.14 L355.65 238.64 L355.98 237.58 L356.86 234.97 L358.08 231.66 L359.30 228.68 L360.51 226.05 L361.73 223.76 L361.74 223.74 L362.94 221.68 L364.16 219.67 L365.37 217.76 L366.59 216.00 L367.81 214.43 L368.76 213.36 L369.02 213.08 L370.24 211.79 L371.45 210.51 L372.67 209.33 L373.89 208.30 L375.10 207.51 L375.96 207.13 L376.32 207.01 L377.53 206.58 L378.75 206.15 L379.97 205.75 L381.18 205.39 L382.40 205.08 L383.61 204.85 L384.83 204.72 L386.05 204.69 L386.40 204.71 L387.26 204.77 L388.48 204.86 L389.69 204.96 L390.91 205.08 L392.13 205.20 L393.34 205.33 L394.56 205.46 L395.77 205.59 L396.99 205.73 L397.20 205.75 L398.21 205.86 L399.42 205.99 L400.64 206.12 L401.85 206.25 L403.07 206.38 L404.29 206.51 L405.50 206.65 L406.72 206.80 L407.93 206.95 L409.15 207.12 L410.37 207.29 L411.58 207.48 L411.60 207.48 L412.80 207.69 L414.01 207.94 L415.23 208.23 L416.45 208.55 L417.66 208.88 L418.88 209.24 L420.09 209.60 L421.31 209.96 L422.53 210.32 L423.74 210.66 L424.96 210.99 L426.17 211.30 L427.39 211.57 L428.61 211.81 L429.60 211.98 L429.82 212.01 L431.04 212.19 L432.25 212.36 L433.47 212.52 L434.69 212.65 L435.90 212.76 L437.12 212.82 L438.33 212.84 L438.60 212.84 L439.55 212.82 L440.77 212.78 L441.98 212.72 L443.20 212.65 L444.41 212.59 L445.63 212.54 L446.85 212.50 L447.60 212.50 L448.06 212.50 L449.28 212.51 L450.49 212.54 L451.71 212.59 L452.92 212.65 L454.14 212.71 L455.36 212.77 L456.57 212.84 L456.60 212.84 L457.79 212.92 L459.00 213.03 L460.22 213.18 L461.44 213.35 L462.65 213.54 L463.87 213.74 L465.08 213.96 L465.60 214.05 L466.30 214.20 L467.52 214.51 L468.73 214.90 L469.95 215.34 L471.16 215.83 L472.38 216.35 L473.60 216.89 L474.60 217.34 L474.81 217.43 L476.03 218.02 L477.24 218.66 L478.46 219.34 L479.68 220.07 L480.89 220.82 L482.11 221.58 L483.32 222.35 L483.60 222.53 L484.54 223.14 L485.76 223.96 L486.97 224.82 L488.19 225.70 L489.40 226.61 L490.62 227.55" fill="none" stroke="#1a1a1a" stroke-width="1.4"/>
<path d="M321.60 331.00 L322.82 329.62 L324.04 327.94 L325.26 326.01 L326.48 323.87 L327.70 321.56 L328.92 319.13 L330.14 316.62 L330.96 314.91 L331.36 314.04 L332.58 311.01 L333.80 307.57 L335.02 303.91 L335.10 303.67 L336.24 299.77 L337.46 295.41 L337.98 293.81 L338.68 291.91 L339.90 288.88 L341.12 286.11 L342.12 283.94 L342.34 283.50 L343.56 281.44 L344.78 279.67 L346.00 277.54 L346.80 275.64 L347.22 274.39 L348.44 269.70 L349.66 264.08 L350.88 258.36 L351.48 255.75 L352.10 253.14 L353.32 247.84 L354.54 242.73 L355.76 238.29 L355.98 237.58 L356.98 234.63 L358.20 231.29 L359.42 228.30 L360.64 225.71 L361.74 223.74 L361.86 223.55 L363.08 221.58 L364.29 219.68 L365.51 218.01 L366.73 216.70 L367.50 216.13 L367.95 215.86 L369.17 215.14 L370.39 214.48 L371.61 213.89 L372.83 213.38 L374.05 212.99 L374.70 212.84 L375.27 212.72 L376.49 212.47 L377.71 212.21 L378.93 211.97 L380.15 211.74 L381.37 211.53 L382.59 211.34 L383.81 211.19 L384.60 211.11 L385.03 211.07 L386.25 210.97 L387.47 210.87 L388.69 210.77 L389.91 210.68 L391.13 210.59 L392.35 210.50 L393.57 210.41 L394.79 210.32 L395.76 210.25 L396.01 210.23 L397.23 210.14 L398.45 210.05 L399.67 209.96 L400.89 209.87 L402.11 209.79 L403.33 209.70 L404.55 209.61 L405.77 209.52 L406.99 209.43 L408.21 209.33 L409.43 209.23 L410.65 209.12 L411.60 209.03 L411.87 209.01 L413.09 208.88 L414.31 208.73 L415.53 208.56 L416.75 208.38 L417.97 208.19 L419.19 208.00 L420.41 207.80 L421.63 207.61 L422.85 207.42 L424.07 207.24 L425.29 207.07 L426.51 206.91 L427.73 206.78 L428.95 206.66 L429.60 206.61 L430.17 206.57 L431.39 206.49 L432.61 206.41 L433.83 206.34 L435.05 206.27 L436.27 206.21 L437.49 206.15 L438.71 206.10 L439.93 206.04 L441.15 205.99 L442.37 205.94 L443.59 205.90 L444.81 205.85 L446.03 205.81 L447.25 205.76 L447.60 205.75 L448.47 205.72 L449.68 205.68 L450.90 205.64 L452.12 205.60 L453.34 205.57 L454.56 205.54 L455.78 205.52 L457.00 205.49 L458.22 205.47 L459.44 205.45 L460.66 205.44 L461.88 205.43 L463.10 205.42 L464.32 205.41 L465.54 205.40 L465.60 205.40 L466.76 205.44 L467.98 205.55 L469.20 205.73 L470.42 205.97 L471.64 206.24 L472.86 206.53 L474.08 206.83 L474.60 206.96 L475.30 207.15 L476.52 207.60 L477.74 208.15 L478.96 208.78 L480.18 209.49 L481.40 210.24 L482.62 211.01 L483.60 211.63 L483.84 211.78 L485.06 212.63 L486.28 213.58 L487.50 214.61 L488.72 215.71 L489.94 216.86 L491.16 218.03" fill="none" stroke="#1a1a1a" stroke-width="1.15" stroke-dasharray="3.6 2.6"/>
<path d="M321.7 192.60V331H501.60" fill="none" stroke="#333" stroke-width="1.15"/>
<text x="319.10" y="334.10" text-anchor="end" class="tl">0</text>
<text x="319.10" y="299.50" text-anchor="end" class="tl">0.0002</text>
<text x="319.10" y="264.90" text-anchor="end" class="tl">0.0004</text>
<text x="319.10" y="230.30" text-anchor="end" class="tl">0.0006</text>
<text x="319.10" y="195.70" text-anchor="end" class="tl">0.0008</text>
<text x="357.60" y="339.1" text-anchor="middle" class="tl">2</text>
<text x="393.60" y="339.1" text-anchor="middle" class="tl">4</text>
<text x="429.60" y="339.1" text-anchor="middle" class="tl">6</text>
<text x="465.60" y="339.1" text-anchor="middle" class="tl">8</text>
<text x="501.60" y="339.1" text-anchor="middle" class="tl">10</text>
<path d="M321.7 331.00h3.2M321.7 296.40h3.2M321.7 261.80h3.2M321.7 227.20h3.2M321.7 192.60h3.2M357.60 331v-3.2M393.60 331v-3.2M429.60 331v-3.2M465.60 331v-3.2M501.60 331v-3.2" fill="none" stroke="#333" stroke-width="0.9"/>
<path d="M321.7 331.00h1.6M321.7 322.35h1.6M321.7 313.70h1.6M321.7 305.05h1.6M321.7 296.40h1.6M321.7 287.75h1.6M321.7 279.10h1.6M321.7 270.45h1.6M321.7 261.80h1.6M321.7 253.15h1.6M321.7 244.50h1.6M321.7 235.85h1.6M321.7 227.20h1.6M321.7 218.55h1.6M321.7 209.90h1.6M321.7 201.25h1.6M321.7 192.60h1.6M330.60 331v-1.6M339.60 331v-1.6M348.60 331v-1.6M366.60 331v-1.6M375.60 331v-1.6M384.60 331v-1.6M402.60 331v-1.6M411.60 331v-1.6M420.60 331v-1.6M438.60 331v-1.6M447.60 331v-1.6M456.60 331v-1.6M474.60 331v-1.6M483.60 331v-1.6M492.60 331v-1.6" fill="none" stroke="#333" stroke-width="0.6"/>
<text x="411.5" y="348" text-anchor="middle" class="tt">Time (ns)</text>
<text transform="translate(287.5 262) rotate(-90)" text-anchor="middle" class="tt">D <tspan class="mx">×</tspan>10<tspan class="sup" dy="-3.8">-8</tspan><tspan dy="3.8"> (m</tspan><tspan class="sup" dy="-3.8">2</tspan><tspan dy="3.8">/s)</tspan></text>
<path d="M372.5 230.60H399.6" stroke="#3838ff" stroke-width="1.15"/>
<text transform="translate(405.7 232.90) scale(0.952 1)" class="lg">Si, C-terminated, T=1000 K</text>
<path d="M372.5 238.12H399.6" stroke="#3838ff" stroke-width="1.55" stroke-dasharray="3.9 3.7"/>
<text transform="translate(405.7 240.42) scale(0.952 1)" class="lg">Si, Si-terminated, T=1000 K</text>
<path d="M372.5 245.64H399.6" stroke="#12a85a" stroke-width="1.2"/>
<text transform="translate(405.7 247.94) scale(0.952 1)" class="lg">Si, C-terminated, T=1200 K</text>
<path d="M372.5 253.16H399.6" stroke="#12a85a" stroke-width="1.4" stroke-dasharray="3.9 3.7"/>
<text transform="translate(405.7 255.46) scale(0.952 1)" class="lg">Si, Si-terminated, T=1200 K</text>
<path d="M372.5 260.68H399.6" stroke="#e01c1c" stroke-width="1.6"/>
<text transform="translate(405.7 262.98) scale(0.952 1)" class="lg">Si, C-terminated, T=1500 K</text>
<path d="M372.5 268.20H399.6" stroke="#e01c1c" stroke-width="1.1" stroke-dasharray="3.9 3.7"/>
<text transform="translate(405.7 270.50) scale(0.952 1)" class="lg">Si, Si-terminated, T=1500 K</text>
<path d="M372.5 275.72H399.6" stroke="#3c3c3c" stroke-width="1.85"/>
<text transform="translate(405.7 278.02) scale(0.952 1)" class="lg">Si, C-terminated, T=2000 K</text>
<path d="M372.5 283.24H399.6" stroke="#111" stroke-width="1.0" stroke-dasharray="3.9 3.7"/>
<text transform="translate(405.7 285.54) scale(0.952 1)" class="lg">Si, Si-terminated, T=2000 K</text>
<path d="M51.50 511.10 L52.45 509.39 L53.41 507.67 L54.36 505.92 L55.31 504.16 L56.27 502.37 L57.22 500.57 L58.17 498.76 L58.70 497.74 L59.12 496.91 L60.08 494.98 L61.03 493.00 L61.98 491.01 L62.94 489.08 L63.89 487.25 L64.46 486.23 L64.84 485.54 L65.80 483.83 L66.75 482.50 L67.34 482.08 L67.70 481.98 L68.66 481.99 L69.61 482.35 L70.56 482.99 L70.58 483.00 L71.51 483.80 L72.47 484.73 L73.42 485.72 L74.37 486.76 L75.33 487.79 L76.28 488.80 L76.70 489.22 L77.23 489.76 L78.19 490.75 L79.14 491.76 L80.09 492.77 L81.05 493.75 L82.00 494.67 L82.95 495.51 L83.91 496.24 L84.08 496.36 L84.86 496.88 L85.81 497.48 L86.76 498.06 L87.72 498.61 L88.67 499.12 L89.62 499.59 L90.58 500.03 L91.53 500.43 L92.48 500.78 L93.44 501.09 L93.80 501.20 L94.39 501.36 L95.34 501.62 L96.30 501.88 L97.25 502.13 L98.20 502.37 L99.15 502.59 L100.11 502.81 L101.06 503.01 L102.01 503.20 L102.97 503.38 L103.70 503.50 L103.92 503.54 L104.87 503.69 L105.83 503.84 L106.78 504.00 L107.73 504.15 L108.69 504.30 L109.64 504.45 L110.59 504.59 L111.54 504.74 L112.50 504.87 L113.45 505.00 L114.40 505.13 L115.36 505.25 L116.31 505.36 L117.26 505.47 L118.22 505.57 L118.28 505.57 L119.17 505.66 L120.12 505.75 L121.08 505.84 L122.03 505.92 L122.98 506.01 L123.94 506.10 L124.89 506.18 L125.84 506.26 L126.79 506.34 L127.75 506.42 L128.70 506.50 L129.65 506.57 L130.61 506.65 L131.56 506.72 L132.51 506.80 L133.47 506.87 L134.42 506.94 L135.37 507.01 L136.33 507.07 L137.28 507.14 L137.90 507.18 L138.23 507.21 L139.18 507.27 L140.14 507.34 L141.09 507.40 L142.04 507.47 L143.00 507.53 L143.95 507.59 L144.90 507.66 L145.86 507.72 L146.81 507.78 L147.76 507.84 L148.72 507.90 L149.67 507.96 L150.62 508.02 L151.57 508.08 L152.53 508.14 L153.48 508.20 L154.43 508.26 L155.39 508.32 L156.34 508.38 L157.29 508.43 L158.25 508.49 L159.20 508.55 L159.50 508.57 L160.15 508.61 L161.11 508.66 L162.06 508.72 L163.01 508.77 L163.97 508.83 L164.92 508.89 L165.87 508.94 L166.82 509.00 L167.78 509.05 L168.73 509.11 L169.68 509.16 L170.64 509.22 L171.59 509.27 L172.54 509.33 L173.50 509.38 L174.45 509.43 L175.40 509.49 L176.36 509.54 L177.31 509.59 L178.26 509.64 L179.21 509.69 L180.17 509.75 L181.12 509.80 L182.07 509.85 L183.03 509.90 L183.98 509.95" fill="none" stroke="#3838ff" stroke-width="1.3"/>
<path d="M51.50 511.10 L52.45 509.43 L53.41 507.73 L54.36 506.00 L55.31 504.23 L56.27 502.44 L57.22 500.62 L58.17 498.77 L58.70 497.74 L59.12 496.90 L60.08 494.92 L61.03 492.87 L61.98 490.81 L62.94 488.79 L63.89 486.85 L64.46 485.77 L64.84 485.02 L65.80 482.98 L66.75 481.05 L67.70 479.68 L68.60 479.32 L68.66 479.33 L69.61 480.09 L70.56 481.43 L71.51 482.82 L71.66 483.00 L72.47 484.01 L73.42 485.22 L74.37 486.44 L75.33 487.62 L76.28 488.75 L76.70 489.22 L77.23 489.81 L78.19 490.86 L79.14 491.90 L80.09 492.90 L81.05 493.86 L82.00 494.75 L82.95 495.55 L83.91 496.25 L84.08 496.36 L84.86 496.86 L85.81 497.45 L86.76 498.02 L87.72 498.57 L88.67 499.08 L89.62 499.56 L90.58 500.01 L91.53 500.41 L92.48 500.78 L93.44 501.09 L93.80 501.20 L94.39 501.36 L95.34 501.62 L96.30 501.88 L97.25 502.13 L98.20 502.37 L99.15 502.59 L100.11 502.81 L101.06 503.01 L102.01 503.20 L102.97 503.38 L103.70 503.50 L103.92 503.54 L104.87 503.69 L105.83 503.84 L106.78 504.00 L107.73 504.15 L108.69 504.30 L109.64 504.45 L110.59 504.59 L111.54 504.74 L112.50 504.87 L113.45 505.00 L114.40 505.13 L115.36 505.25 L116.31 505.36 L117.26 505.47 L118.22 505.57 L118.28 505.57 L119.17 505.66 L120.12 505.75 L121.08 505.84 L122.03 505.92 L122.98 506.01 L123.94 506.10 L124.89 506.18 L125.84 506.26 L126.79 506.34 L127.75 506.42 L128.70 506.50 L129.65 506.57 L130.61 506.65 L131.56 506.72 L132.51 506.80 L133.47 506.87 L134.42 506.94 L135.37 507.01 L136.33 507.07 L137.28 507.14 L137.90 507.18 L138.23 507.21 L139.18 507.27 L140.14 507.34 L141.09 507.40 L142.04 507.47 L143.00 507.53 L143.95 507.59 L144.90 507.66 L145.86 507.72 L146.81 507.78 L147.76 507.84 L148.72 507.90 L149.67 507.96 L150.62 508.02 L151.57 508.08 L152.53 508.14 L153.48 508.20 L154.43 508.26 L155.39 508.32 L156.34 508.38 L157.29 508.43 L158.25 508.49 L159.20 508.55 L159.50 508.57 L160.15 508.61 L161.11 508.66 L162.06 508.72 L163.01 508.77 L163.97 508.83 L164.92 508.89 L165.87 508.94 L166.82 509.00 L167.78 509.05 L168.73 509.11 L169.68 509.16 L170.64 509.22 L171.59 509.27 L172.54 509.33 L173.50 509.38 L174.45 509.43 L175.40 509.49 L176.36 509.54 L177.31 509.59 L178.26 509.64 L179.21 509.69 L180.17 509.75 L181.12 509.80 L182.07 509.85 L183.03 509.90 L183.98 509.95" fill="none" stroke="#3838ff" stroke-width="1.0" stroke-dasharray="3.6 2.6"/>
<path d="M51.50 511.10 L52.51 509.26 L53.51 507.41 L54.52 505.55 L55.52 503.68 L56.53 501.80 L57.54 499.92 L58.54 498.04 L58.70 497.74 L59.55 496.19 L60.56 494.43 L61.56 492.65 L62.57 490.78 L63.57 488.72 L64.46 486.69 L64.58 486.39 L65.59 483.32 L66.59 479.66 L67.60 475.94 L68.24 473.79 L68.61 472.53 L69.61 469.23 L70.04 468.72 L70.62 468.90 L71.62 469.90 L72.20 470.57 L72.63 471.04 L73.64 472.18 L74.64 473.35 L75.65 474.50 L76.65 475.59 L76.70 475.63 L77.66 476.62 L78.67 477.65 L79.67 478.66 L80.68 479.63 L81.69 480.57 L82.69 481.45 L83.70 482.26 L84.08 482.54 L84.70 483.00 L85.71 483.74 L86.72 484.47 L87.72 485.18 L88.73 485.85 L89.74 486.49 L90.74 487.07 L91.75 487.59 L92.75 488.04 L93.76 488.40 L93.80 488.42 L94.77 488.71 L95.77 488.99 L96.78 489.26 L97.78 489.52 L98.79 489.76 L99.80 489.99 L100.80 490.21 L101.81 490.43 L102.82 490.64 L103.70 490.83 L103.82 490.86 L104.83 491.08 L105.83 491.30 L106.84 491.52 L107.85 491.74 L108.85 491.96 L109.86 492.18 L110.87 492.39 L111.87 492.61 L112.88 492.81 L113.88 493.02 L114.89 493.22 L115.90 493.41 L116.90 493.59 L117.91 493.77 L118.28 493.83 L118.91 493.93 L119.92 494.10 L120.93 494.26 L121.93 494.42 L122.94 494.57 L123.95 494.73 L124.95 494.88 L125.96 495.03 L126.96 495.17 L127.97 495.32 L128.98 495.46 L129.98 495.60 L130.99 495.73 L131.99 495.86 L133.00 496.00 L134.01 496.12 L135.01 496.25 L136.02 496.37 L137.03 496.49 L137.90 496.59 L138.03 496.61 L139.04 496.72 L140.04 496.82 L141.05 496.91 L142.06 497.00 L143.06 497.09 L144.07 497.18 L145.08 497.27 L146.08 497.36 L147.09 497.45 L148.09 497.55 L149.10 497.66 L149.78 497.74 L150.11 497.78 L151.11 497.91 L152.12 498.05 L153.12 498.20 L154.13 498.35 L155.14 498.50 L156.14 498.65 L157.15 498.80 L158.16 498.95 L159.16 499.08 L159.50 499.12 L160.17 499.21 L161.17 499.32 L162.18 499.43 L163.19 499.54 L164.19 499.64 L165.20 499.73 L166.21 499.83 L167.21 499.92 L168.22 500.01 L169.22 500.10 L170.23 500.19 L171.24 500.28 L172.24 500.38 L173.25 500.48 L174.25 500.58 L175.26 500.70 L176.27 500.81 L177.27 500.94 L177.50 500.97 L178.28 501.07 L179.29 501.22 L180.29 501.37 L181.30 501.53 L182.30 501.71 L183.31 501.88 L184.32 502.07 L185.32 502.26 L186.33 502.46 L187.34 502.66 L188.34 502.87 L189.35 503.08 L190.35 503.29 L191.36 503.50" fill="none" stroke="#12a85a" stroke-width="1.3"/>
<path d="M51.50 511.10 L52.51 509.26 L53.51 507.41 L54.52 505.55 L55.52 503.68 L56.53 501.80 L57.54 499.92 L58.54 498.04 L58.70 497.74 L59.55 496.19 L60.56 494.43 L61.56 492.65 L62.57 490.78 L63.57 488.72 L64.46 486.69 L64.58 486.39 L65.59 483.32 L66.59 479.66 L67.60 475.94 L68.24 473.79 L68.61 472.53 L69.61 469.23 L70.04 468.72 L70.62 468.90 L71.62 469.90 L72.20 470.57 L72.63 471.03 L73.64 472.17 L74.64 473.32 L75.65 474.47 L76.65 475.59 L76.70 475.63 L77.66 476.68 L78.67 477.78 L79.67 478.88 L80.68 479.96 L81.69 480.99 L82.69 481.95 L83.70 482.82 L84.08 483.12 L84.70 483.60 L85.71 484.36 L86.72 485.09 L87.72 485.80 L88.73 486.48 L89.74 487.10 L90.74 487.68 L91.75 488.18 L92.75 488.62 L93.76 488.98 L93.80 488.99 L94.77 489.28 L95.77 489.56 L96.78 489.83 L97.78 490.08 L98.79 490.33 L99.80 490.56 L100.80 490.78 L101.81 491.00 L102.82 491.22 L103.70 491.41 L103.82 491.44 L104.83 491.65 L105.83 491.87 L106.84 492.09 L107.85 492.31 L108.85 492.53 L109.86 492.75 L110.87 492.97 L111.87 493.18 L112.88 493.39 L113.88 493.59 L114.89 493.79 L115.90 493.98 L116.90 494.17 L117.91 494.34 L118.28 494.40 L118.91 494.51 L119.92 494.67 L120.93 494.83 L121.93 494.99 L122.94 495.15 L123.95 495.30 L124.95 495.45 L125.96 495.60 L126.96 495.75 L127.97 495.89 L128.98 496.03 L129.98 496.17 L130.99 496.31 L131.99 496.44 L133.00 496.57 L134.01 496.70 L135.01 496.82 L136.02 496.95 L137.03 497.07 L137.90 497.17 L138.03 497.18 L139.04 497.29 L140.04 497.39 L141.05 497.49 L142.06 497.58 L143.06 497.67 L144.07 497.76 L145.08 497.84 L146.08 497.93 L147.09 498.03 L148.09 498.13 L149.10 498.24 L149.78 498.32 L150.11 498.36 L151.11 498.49 L152.12 498.63 L153.12 498.77 L154.13 498.93 L155.14 499.08 L156.14 499.23 L157.15 499.38 L158.16 499.52 L159.16 499.66 L159.50 499.70 L160.17 499.78 L161.17 499.90 L162.18 500.01 L163.19 500.11 L164.19 500.21 L165.20 500.31 L166.21 500.40 L167.21 500.49 L168.22 500.58 L169.22 500.67 L170.23 500.77 L171.24 500.86 L172.24 500.96 L173.25 501.06 L174.25 501.16 L175.26 501.27 L176.27 501.39 L177.27 501.51 L177.50 501.54 L178.28 501.65 L179.29 501.79 L180.29 501.95 L181.30 502.11 L182.30 502.28 L183.31 502.46 L184.32 502.65 L185.32 502.84 L186.33 503.03 L187.34 503.24 L188.34 503.44 L189.35 503.65 L190.35 503.86 L191.36 504.08" fill="none" stroke="#12a85a" stroke-width="1.0" stroke-dasharray="3.6 2.6"/>
<path d="M51.50 511.10 L52.59 509.11 L53.68 507.11 L54.76 505.09 L55.85 503.07 L56.94 501.04 L58.03 499.01 L58.70 497.74 L59.11 496.98 L60.20 495.04 L61.29 493.12 L62.38 491.12 L63.47 488.94 L64.46 486.69 L64.55 486.46 L65.64 483.32 L66.73 479.57 L67.82 475.62 L68.90 471.87 L69.32 470.57 L69.99 468.52 L71.08 465.20 L72.17 462.02 L73.26 459.15 L74.34 456.78 L74.36 456.75 L75.43 454.83 L76.52 453.11 L77.61 451.68 L78.50 450.76 L78.69 450.59 L79.78 449.57 L80.87 448.64 L81.96 447.98 L82.82 447.77 L83.05 447.76 L84.13 447.85 L85.22 448.09 L86.31 448.47 L87.40 448.97 L88.48 449.57 L88.94 449.84 L89.57 450.24 L90.66 450.99 L91.75 451.81 L92.84 452.69 L93.92 453.61 L95.01 454.55 L96.10 455.51 L97.19 456.47 L98.27 457.42 L98.84 457.90 L99.36 458.35 L100.45 459.31 L101.54 460.31 L102.63 461.32 L103.71 462.33 L104.80 463.33 L105.89 464.29 L106.98 465.21 L108.06 466.06 L108.56 466.42 L109.15 466.84 L110.24 467.58 L111.33 468.29 L112.42 468.97 L113.50 469.62 L114.59 470.24 L115.68 470.84 L116.77 471.42 L117.85 471.97 L118.28 472.18 L118.94 472.50 L120.03 473.02 L121.12 473.54 L122.21 474.03 L123.29 474.52 L124.38 475.00 L125.47 475.46 L126.56 475.91 L127.64 476.35 L128.18 476.56 L128.73 476.77 L129.82 477.18 L130.91 477.59 L131.99 477.99 L133.08 478.38 L134.17 478.77 L135.26 479.14 L136.35 479.51 L137.43 479.86 L137.90 480.01 L138.52 480.20 L139.61 480.54 L140.70 480.87 L141.78 481.20 L142.87 481.52 L143.96 481.83 L145.05 482.15 L146.14 482.45 L147.22 482.76 L148.31 483.06 L149.40 483.36 L149.78 483.46 L150.49 483.66 L151.57 483.96 L152.66 484.25 L153.75 484.55 L154.84 484.84 L155.93 485.12 L157.01 485.40 L158.10 485.67 L159.19 485.93 L159.50 486.00 L160.28 486.17 L161.36 486.42 L162.45 486.65 L163.54 486.89 L164.63 487.12 L165.72 487.35 L166.80 487.57 L167.89 487.80 L168.98 488.02 L170.07 488.23 L171.15 488.45 L172.24 488.66 L173.33 488.88 L174.42 489.09 L175.51 489.30 L176.59 489.51 L177.50 489.68 L177.68 489.72 L178.77 489.92 L179.86 490.11 L180.94 490.29 L182.03 490.47 L183.12 490.65 L184.21 490.82 L185.30 491.00 L186.38 491.18 L187.47 491.36 L188.56 491.56 L189.65 491.76 L190.73 491.97 L191.82 492.20 L191.90 492.22 L192.91 492.45 L194.00 492.73 L195.09 493.04 L196.17 493.37 L197.26 493.72 L198.35 494.09 L199.44 494.47 L200.52 494.87 L201.61 495.27 L202.70 495.67" fill="none" stroke="#e01c1c" stroke-width="1.35"/>
<path d="M51.50 511.10 L52.59 509.11 L53.68 507.11 L54.76 505.09 L55.85 503.07 L56.94 501.04 L58.03 499.01 L58.70 497.74 L59.11 496.98 L60.20 495.04 L61.29 493.12 L62.38 491.12 L63.47 488.94 L64.46 486.69 L64.55 486.46 L65.64 483.32 L66.73 479.57 L67.82 475.62 L68.90 471.87 L69.32 470.57 L69.99 468.52 L71.08 465.20 L72.17 462.02 L73.26 459.15 L74.34 456.78 L74.36 456.75 L75.43 454.83 L76.52 453.11 L77.61 451.68 L78.50 450.76 L78.69 450.59 L79.78 449.57 L80.87 448.64 L81.96 447.98 L82.82 447.77 L83.05 447.76 L84.13 447.85 L85.22 448.09 L86.31 448.47 L87.40 448.97 L88.48 449.57 L88.94 449.84 L89.57 450.24 L90.66 450.99 L91.75 451.81 L92.84 452.69 L93.92 453.61 L95.01 454.55 L96.10 455.51 L97.19 456.47 L98.27 457.42 L98.84 457.90 L99.36 458.35 L100.45 459.31 L101.54 460.31 L102.63 461.32 L103.71 462.33 L104.80 463.33 L105.89 464.29 L106.98 465.21 L108.06 466.06 L108.56 466.42 L109.15 466.84 L110.24 467.58 L111.33 468.29 L112.42 468.97 L113.50 469.62 L114.59 470.24 L115.68 470.84 L116.77 471.42 L117.85 471.97 L118.28 472.18 L118.94 472.50 L120.03 473.02 L121.12 473.53 L122.21 474.03 L123.29 474.52 L124.38 475.00 L125.47 475.46 L126.56 475.91 L127.64 476.34 L128.18 476.56 L128.73 476.77 L129.82 477.19 L130.91 477.61 L131.99 478.03 L133.08 478.43 L134.17 478.82 L135.26 479.20 L136.35 479.55 L137.43 479.88 L137.90 480.01 L138.52 480.18 L139.61 480.46 L140.70 480.72 L141.78 480.98 L142.87 481.22 L143.96 481.46 L145.05 481.69 L146.14 481.93 L147.22 482.17 L148.31 482.42 L149.40 482.68 L149.78 482.77 L150.49 482.95 L151.57 483.24 L152.66 483.53 L153.75 483.82 L154.84 484.12 L155.93 484.41 L157.01 484.70 L158.10 484.97 L159.19 485.23 L159.50 485.31 L160.28 485.48 L161.36 485.73 L162.45 485.97 L163.54 486.20 L164.63 486.43 L165.72 486.66 L166.80 486.89 L167.89 487.11 L168.98 487.33 L170.07 487.55 L171.15 487.76 L172.24 487.97 L173.33 488.19 L174.42 488.40 L175.51 488.61 L176.59 488.82 L177.50 488.99 L177.68 489.03 L178.77 489.23 L179.86 489.42 L180.94 489.60 L182.03 489.78 L183.12 489.96 L184.21 490.13 L185.30 490.31 L186.38 490.49 L187.47 490.67 L188.56 490.86 L189.65 491.07 L190.73 491.28 L191.82 491.51 L191.90 491.52 L192.91 491.76 L194.00 492.04 L195.09 492.35 L196.17 492.68 L197.26 493.03 L198.35 493.40 L199.44 493.78 L200.52 494.17 L201.61 494.57 L202.70 494.98" fill="none" stroke="#e01c1c" stroke-width="1.25" stroke-dasharray="3.6 2.6"/>
<path d="M51.50 511.10 L52.72 508.87 L53.93 506.63 L55.15 504.37 L56.37 502.11 L57.59 499.83 L58.70 497.74 L58.80 497.55 L60.02 495.36 L61.24 493.21 L62.46 490.97 L63.67 488.49 L64.46 486.69 L64.89 485.58 L66.11 481.77 L67.32 477.43 L68.54 473.09 L69.32 470.57 L69.76 469.27 L70.98 465.95 L72.19 462.80 L73.41 459.55 L74.36 456.75 L74.63 455.90 L75.85 451.84 L77.06 447.44 L78.28 442.77 L79.22 439.02 L79.50 437.86 L80.71 432.19 L81.93 426.10 L83.15 420.37 L84.08 416.68 L84.37 415.68 L85.58 411.67 L86.80 408.09 L88.02 405.11 L88.94 403.32 L89.24 402.82 L90.45 400.83 L91.67 399.15 L92.89 398.03 L92.90 398.02 L94.10 397.36 L95.32 397.07 L95.60 397.10 L96.54 397.37 L97.76 398.01 L98.97 398.91 L100.19 400.01 L101.18 401.02 L101.41 401.26 L102.63 402.76 L103.84 404.50 L105.06 406.42 L106.28 408.41 L107.49 410.40 L108.56 412.07 L108.71 412.30 L109.93 414.17 L111.15 416.06 L112.36 417.96 L113.58 419.86 L114.80 421.76 L116.02 423.63 L117.23 425.48 L118.28 427.04 L118.45 427.29 L119.67 429.08 L120.88 430.87 L122.10 432.63 L123.32 434.37 L124.54 436.07 L125.75 437.72 L126.97 439.31 L127.28 439.71 L128.19 440.86 L129.41 442.41 L130.62 443.93 L131.84 445.41 L133.06 446.83 L134.27 448.15 L135.49 449.36 L136.28 450.07 L136.71 450.44 L137.93 451.45 L139.14 452.42 L140.36 453.35 L141.58 454.25 L142.79 455.12 L144.01 455.97 L145.23 456.80 L146.45 457.62 L147.66 458.43 L148.88 459.25 L149.96 459.97 L150.10 460.07 L151.32 460.88 L152.53 461.69 L153.75 462.50 L154.97 463.29 L156.18 464.08 L157.40 464.86 L158.62 465.63 L159.50 466.19 L159.84 466.40 L161.05 467.18 L162.27 467.95 L163.49 468.71 L164.71 469.47 L165.92 470.20 L167.14 470.92 L168.14 471.49 L168.36 471.61 L169.57 472.29 L170.79 472.96 L172.01 473.62 L173.23 474.28 L174.44 474.92 L175.66 475.56 L176.88 476.17 L178.10 476.77 L179.31 477.35 L180.53 477.91 L181.64 478.40 L181.75 478.44 L182.96 478.96 L184.18 479.46 L185.40 479.95 L186.62 480.42 L187.83 480.89 L189.05 481.35 L190.27 481.80 L191.49 482.24 L192.70 482.69 L193.92 483.12 L195.14 483.56 L195.50 483.69 L196.35 484.00 L197.57 484.42 L198.79 484.82 L200.01 485.22 L201.22 485.62 L202.44 486.01 L203.66 486.41 L204.88 486.82 L206.09 487.23 L207.31 487.67 L208.53 488.12 L209.00 488.30 L209.74 488.59 L210.96 489.09 L212.18 489.61 L213.40 490.16 L214.61 490.71 L215.83 491.29 L217.05 491.88 L218.27 492.48 L219.48 493.09 L220.70 493.71" fill="none" stroke="#1a1a1a" stroke-width="1.2"/>
<path d="M51.50 511.10 L52.72 508.87 L53.93 506.63 L55.15 504.37 L56.37 502.11 L57.59 499.83 L58.70 497.74 L58.80 497.55 L60.02 495.36 L61.24 493.21 L62.46 490.97 L63.67 488.49 L64.46 486.69 L64.89 485.58 L66.11 481.76 L67.32 477.39 L68.54 473.06 L69.32 470.57 L69.76 469.30 L70.98 466.06 L72.19 463.03 L73.41 459.91 L74.36 457.21 L74.63 456.39 L75.85 452.48 L77.06 448.26 L78.28 443.78 L79.22 440.17 L79.50 439.05 L80.71 433.58 L81.93 427.71 L83.15 422.14 L84.08 418.52 L84.37 417.54 L85.58 413.52 L86.80 409.93 L88.02 406.93 L88.94 405.16 L89.24 404.68 L90.45 402.76 L91.67 401.15 L92.89 400.10 L92.90 400.10 L94.10 399.44 L95.32 398.91 L96.50 398.71 L96.54 398.71 L97.76 398.88 L98.97 399.30 L100.19 399.93 L101.18 400.56 L101.41 400.72 L102.63 401.80 L103.84 403.19 L105.06 404.79 L106.28 406.51 L107.49 408.27 L108.56 409.77 L108.71 409.98 L109.93 411.68 L111.15 413.43 L112.36 415.23 L113.58 417.04 L114.80 418.87 L116.02 420.70 L117.23 422.51 L118.28 424.05 L118.45 424.29 L119.67 426.08 L120.88 427.88 L122.10 429.68 L123.32 431.47 L124.54 433.22 L125.75 434.91 L126.97 436.54 L127.28 436.94 L128.19 438.11 L129.41 439.67 L130.62 441.20 L131.84 442.67 L133.06 444.08 L134.27 445.39 L135.49 446.60 L136.28 447.31 L136.71 447.67 L137.93 448.68 L139.14 449.65 L140.36 450.58 L141.58 451.48 L142.79 452.35 L144.01 453.20 L145.23 454.03 L146.45 454.85 L147.66 455.67 L148.88 456.48 L149.96 457.21 L150.10 457.30 L151.32 458.12 L152.53 458.92 L153.75 459.72 L154.97 460.51 L156.18 461.29 L157.40 462.08 L158.62 462.86 L159.50 463.43 L159.84 463.65 L161.05 464.44 L162.27 465.25 L163.49 466.05 L164.71 466.85 L165.92 467.62 L167.14 468.37 L168.14 468.96 L168.36 469.08 L169.57 469.77 L170.79 470.44 L172.01 471.11 L173.23 471.76 L174.44 472.40 L175.66 473.02 L176.88 473.63 L178.10 474.23 L179.31 474.81 L180.53 475.37 L181.64 475.86 L181.75 475.91 L182.96 476.44 L184.18 476.96 L185.40 477.46 L186.62 477.96 L187.83 478.45 L189.05 478.93 L190.27 479.40 L191.49 479.87 L192.70 480.33 L193.92 480.79 L195.14 481.25 L195.50 481.39 L196.35 481.71 L197.57 482.15 L198.79 482.58 L200.01 483.00 L201.22 483.42 L202.44 483.84 L203.66 484.26 L204.88 484.69 L206.09 485.13 L207.31 485.58 L208.53 486.04 L209.00 486.23 L209.74 486.53 L210.96 487.03 L212.18 487.55 L213.40 488.08 L214.61 488.63 L215.83 489.19 L217.05 489.76 L218.27 490.34 L219.48 490.93 L220.70 491.52" fill="none" stroke="#1a1a1a" stroke-width="1.3" stroke-dasharray="3.6 2.6"/>
<path d="M51.6 372.92V511.1H231.50" fill="none" stroke="#333" stroke-width="1.15"/>
<text x="49.00" y="514.20" text-anchor="end" class="tl">0</text>
<text x="49.00" y="491.17" text-anchor="end" class="tl">0.0001</text>
<text x="49.00" y="468.14" text-anchor="end" class="tl">0.0002</text>
<text x="49.00" y="445.11" text-anchor="end" class="tl">0.0003</text>
<text x="49.00" y="422.08" text-anchor="end" class="tl">0.0004</text>
<text x="49.00" y="399.05" text-anchor="end" class="tl">0.0005</text>
<text x="49.00" y="376.02" text-anchor="end" class="tl">0.0006</text>
<text x="87.50" y="519.4" text-anchor="middle" class="tl">2</text>
<text x="123.50" y="519.4" text-anchor="middle" class="tl">4</text>
<text x="159.50" y="519.4" text-anchor="middle" class="tl">6</text>
<text x="195.50" y="519.4" text-anchor="middle" class="tl">8</text>
<text x="231.50" y="519.4" text-anchor="middle" class="tl">10</text>
<path d="M51.6 511.10h3.2M51.6 488.07h3.2M51.6 465.04h3.2M51.6 442.01h3.2M51.6 418.98h3.2M51.6 395.95h3.2M51.6 372.92h3.2M87.50 511.1v-3.2M123.50 511.1v-3.2M159.50 511.1v-3.2M195.50 511.1v-3.2M231.50 511.1v-3.2" fill="none" stroke="#333" stroke-width="0.9"/>
<path d="M51.6 511.10h1.6M51.6 506.49h1.6M51.6 501.89h1.6M51.6 497.28h1.6M51.6 492.68h1.6M51.6 488.07h1.6M51.6 483.46h1.6M51.6 478.86h1.6M51.6 474.25h1.6M51.6 469.65h1.6M51.6 465.04h1.6M51.6 460.43h1.6M51.6 455.83h1.6M51.6 451.22h1.6M51.6 446.62h1.6M51.6 442.01h1.6M51.6 437.40h1.6M51.6 432.80h1.6M51.6 428.19h1.6M51.6 423.59h1.6M51.6 418.98h1.6M51.6 414.37h1.6M51.6 409.77h1.6M51.6 405.16h1.6M51.6 400.56h1.6M51.6 395.95h1.6M51.6 391.34h1.6M51.6 386.74h1.6M51.6 382.13h1.6M51.6 377.53h1.6M51.6 372.92h1.6M60.50 511.1v-1.6M69.50 511.1v-1.6M78.50 511.1v-1.6M96.50 511.1v-1.6M105.50 511.1v-1.6M114.50 511.1v-1.6M132.50 511.1v-1.6M141.50 511.1v-1.6M150.50 511.1v-1.6M168.50 511.1v-1.6M177.50 511.1v-1.6M186.50 511.1v-1.6M204.50 511.1v-1.6M213.50 511.1v-1.6M222.50 511.1v-1.6" fill="none" stroke="#333" stroke-width="0.6"/>
<text x="141.2" y="528.4" text-anchor="middle" class="tt">Time (ns)</text>
<text transform="translate(15.3 441.5) rotate(-90)" text-anchor="middle" class="tt">D <tspan class="mx">×</tspan>10<tspan class="sup" dy="-3.8">-8</tspan><tspan dy="3.8"> (m</tspan><tspan class="sup" dy="-3.8">2</tspan><tspan dy="3.8">/s)</tspan></text>
<path d="M123.1 367.80H151.6" stroke="#3838ff" stroke-width="1.7"/>
<text transform="translate(156.8 370.10) scale(0.945 1)" class="lg">C, C-terminated, T=1000 K</text>
<path d="M123.1 375.37H151.6" stroke="#3838ff" stroke-width="1.0" stroke-dasharray="3.9 3.7"/>
<text transform="translate(156.8 377.67) scale(0.945 1)" class="lg">C, Si-terminated, T=1000 K</text>
<path d="M123.1 382.94H151.6" stroke="#12a85a" stroke-width="1.7"/>
<text transform="translate(156.8 385.24) scale(0.945 1)" class="lg">C, C-terminated, T=1200 K</text>
<path d="M123.1 390.51H151.6" stroke="#12a85a" stroke-width="1.0" stroke-dasharray="3.9 3.7"/>
<text transform="translate(156.8 392.81) scale(0.945 1)" class="lg">C, Si-terminated, T=1200 K</text>
<path d="M123.1 398.08H151.6" stroke="#e01c1c" stroke-width="1.7"/>
<text transform="translate(156.8 400.38) scale(0.945 1)" class="lg">C, C-terminated, T=1500 K</text>
<path d="M123.1 405.65H151.6" stroke="#e01c1c" stroke-width="1.4" stroke-dasharray="3.9 3.7"/>
<text transform="translate(156.8 407.95) scale(0.945 1)" class="lg">C, Si-terminated, T=1500 K</text>
<path d="M123.1 413.22H151.6" stroke="#111" stroke-width="1.25"/>
<text transform="translate(156.8 415.52) scale(0.945 1)" class="lg">C, C-terminated, T=2000 K</text>
<path d="M123.1 420.79H151.6" stroke="#333" stroke-width="1.45" stroke-dasharray="3.9 3.7"/>
<text transform="translate(156.8 423.09) scale(0.945 1)" class="lg">C, Si-terminated, T=2000 K</text>
<path d="M322.30 511.20 L323.26 509.65 L324.21 508.03 L325.17 506.34 L326.13 504.59 L327.09 502.78 L328.04 500.91 L329.00 499.00 L329.96 497.04 L330.92 495.04 L331.87 493.02 L332.83 490.96 L332.85 490.92 L333.79 488.63 L334.74 486.08 L335.70 483.80 L335.82 483.55 L336.66 481.90 L337.62 480.64 L337.81 480.56 L338.57 480.52 L339.53 480.85 L340.49 481.53 L341.41 482.40 L341.45 482.43 L342.40 483.59 L343.36 484.99 L344.32 486.51 L345.27 488.03 L346.23 489.43 L347.19 490.58 L347.54 490.92 L348.15 491.45 L349.10 492.21 L350.06 492.91 L351.02 493.55 L351.98 494.14 L352.93 494.68 L353.67 495.07 L353.89 495.18 L354.85 495.68 L355.80 496.18 L356.76 496.67 L357.72 497.15 L358.68 497.62 L359.63 498.07 L360.59 498.50 L361.55 498.91 L362.51 499.29 L363.46 499.64 L363.59 499.68 L364.42 499.96 L365.38 500.27 L366.33 500.57 L367.29 500.87 L368.25 501.15 L369.21 501.42 L370.16 501.68 L371.12 501.93 L372.08 502.16 L373.04 502.38 L373.32 502.44 L373.99 502.59 L374.95 502.80 L375.91 503.00 L376.86 503.21 L377.82 503.41 L378.78 503.61 L379.74 503.81 L380.69 504.00 L381.65 504.19 L382.61 504.36 L383.57 504.53 L384.52 504.70 L385.48 504.85 L386.44 504.99 L387.39 505.12 L388.11 505.21 L388.35 505.24 L389.31 505.35 L390.27 505.46 L391.22 505.57 L392.18 505.68 L393.14 505.78 L394.10 505.89 L395.05 505.99 L396.01 506.09 L396.97 506.18 L397.92 506.28 L398.88 506.37 L399.84 506.46 L400.80 506.55 L401.75 506.64 L402.71 506.72 L403.67 506.81 L404.63 506.89 L405.58 506.97 L406.54 507.05 L407.50 507.12 L408.45 507.20 L409.41 507.27 L409.57 507.28 L410.37 507.34 L411.33 507.42 L412.28 507.49 L413.24 507.56 L414.20 507.64 L415.16 507.71 L416.11 507.79 L417.07 507.86 L418.03 507.93 L418.98 508.01 L419.94 508.08 L420.90 508.14 L421.86 508.21 L422.81 508.27 L423.77 508.33 L424.73 508.39 L425.69 508.45 L426.64 508.50 L427.60 508.55 L428.56 508.59 L429.51 508.63 L430.47 508.67 L430.48 508.67 L431.43 508.70 L432.39 508.73 L433.34 508.76 L434.30 508.79 L435.26 508.82 L436.22 508.85 L437.17 508.87 L438.13 508.90 L439.09 508.92 L440.04 508.95 L441.00 508.97 L441.96 508.99 L442.92 509.01 L443.87 509.03 L444.83 509.05 L445.79 509.07 L446.75 509.08 L447.70 509.09 L448.66 509.10 L449.62 509.11 L450.58 509.12 L451.53 509.12 L452.49 509.13 L453.45 509.13 L454.40 509.13 L455.36 509.13" fill="none" stroke="#3838ff" stroke-width="1.1"/>
<path d="M322.30 511.20 L323.26 509.91 L324.21 508.47 L325.17 506.90 L326.13 505.21 L327.09 503.40 L328.04 501.50 L329.00 499.51 L329.96 497.45 L330.92 495.33 L331.87 493.16 L332.83 490.97 L332.85 490.92 L333.79 488.36 L334.74 485.38 L335.70 482.69 L335.82 482.40 L336.66 480.36 L337.62 478.54 L338.17 478.25 L338.57 478.41 L339.53 479.30 L340.49 480.61 L341.41 481.94 L341.45 481.98 L342.40 483.38 L343.36 484.91 L344.32 486.49 L345.27 488.02 L346.23 489.41 L347.19 490.57 L347.54 490.92 L348.15 491.47 L349.10 492.25 L350.06 492.95 L351.02 493.58 L351.98 494.16 L352.93 494.69 L353.67 495.07 L353.89 495.18 L354.85 495.68 L355.80 496.17 L356.76 496.66 L357.72 497.15 L358.68 497.62 L359.63 498.07 L360.59 498.50 L361.55 498.91 L362.51 499.29 L363.46 499.64 L363.59 499.68 L364.42 499.96 L365.38 500.27 L366.33 500.57 L367.29 500.87 L368.25 501.15 L369.21 501.42 L370.16 501.68 L371.12 501.93 L372.08 502.16 L373.04 502.38 L373.32 502.44 L373.99 502.59 L374.95 502.80 L375.91 503.00 L376.86 503.21 L377.82 503.41 L378.78 503.61 L379.74 503.81 L380.69 504.00 L381.65 504.19 L382.61 504.36 L383.57 504.53 L384.52 504.70 L385.48 504.85 L386.44 504.99 L387.39 505.12 L388.11 505.21 L388.35 505.24 L389.31 505.35 L390.27 505.46 L391.22 505.57 L392.18 505.68 L393.14 505.78 L394.10 505.89 L395.05 505.99 L396.01 506.09 L396.97 506.18 L397.92 506.28 L398.88 506.37 L399.84 506.46 L400.80 506.55 L401.75 506.64 L402.71 506.72 L403.67 506.81 L404.63 506.89 L405.58 506.97 L406.54 507.05 L407.50 507.12 L408.45 507.20 L409.41 507.27 L409.57 507.28 L410.37 507.34 L411.33 507.42 L412.28 507.49 L413.24 507.56 L414.20 507.64 L415.16 507.71 L416.11 507.79 L417.07 507.86 L418.03 507.93 L418.98 508.01 L419.94 508.08 L420.90 508.14 L421.86 508.21 L422.81 508.27 L423.77 508.33 L424.73 508.39 L425.69 508.45 L426.64 508.50 L427.60 508.55 L428.56 508.59 L429.51 508.63 L430.47 508.67 L430.48 508.67 L431.43 508.70 L432.39 508.73 L433.34 508.76 L434.30 508.79 L435.26 508.82 L436.22 508.85 L437.17 508.87 L438.13 508.90 L439.09 508.92 L440.04 508.95 L441.00 508.97 L441.96 508.99 L442.92 509.01 L443.87 509.03 L444.83 509.05 L445.79 509.07 L446.75 509.08 L447.70 509.09 L448.66 509.10 L449.62 509.11 L450.58 509.12 L451.53 509.12 L452.49 509.13 L453.45 509.13 L454.40 509.13 L455.36 509.13" fill="none" stroke="#3838ff" stroke-width="1.3" stroke-dasharray="3.6 2.6"/>
<path d="M322.30 511.20 L323.30 509.53 L324.31 507.79 L325.31 505.99 L326.31 504.12 L327.31 502.21 L328.32 500.24 L329.32 498.23 L330.32 496.19 L331.32 494.12 L332.33 492.02 L332.85 490.92 L333.33 489.90 L334.33 487.68 L335.33 485.37 L336.34 482.97 L337.34 480.47 L338.34 477.87 L338.98 476.18 L339.35 475.10 L340.33 472.03 L340.35 471.98 L341.35 469.50 L341.41 469.50 L342.35 469.92 L343.36 470.75 L344.36 471.73 L345.20 472.49 L345.36 472.63 L346.36 473.45 L347.37 474.28 L348.37 475.12 L349.37 475.94 L350.37 476.74 L351.15 477.33 L351.38 477.51 L352.38 478.28 L353.38 479.06 L354.39 479.81 L355.39 480.52 L356.39 481.15 L357.39 481.68 L357.46 481.71 L358.40 482.12 L359.40 482.53 L360.40 482.92 L361.40 483.27 L362.41 483.61 L363.41 483.93 L364.41 484.24 L365.42 484.55 L365.93 484.70 L366.42 484.85 L367.42 485.15 L368.42 485.45 L369.43 485.74 L370.43 486.04 L371.43 486.33 L372.43 486.61 L373.44 486.89 L374.44 487.17 L375.44 487.44 L376.44 487.71 L377.45 487.97 L378.19 488.16 L378.45 488.22 L379.45 488.48 L380.46 488.72 L381.46 488.97 L382.46 489.21 L383.46 489.45 L384.47 489.69 L385.47 489.92 L386.47 490.15 L387.47 490.38 L388.48 490.61 L389.48 490.84 L390.48 491.06 L391.48 491.29 L392.49 491.51 L392.98 491.62 L393.49 491.73 L394.49 491.95 L395.50 492.18 L396.50 492.41 L397.50 492.64 L398.50 492.87 L399.51 493.10 L400.51 493.33 L401.51 493.55 L402.51 493.77 L403.52 493.98 L404.52 494.19 L405.52 494.38 L406.52 494.57 L407.53 494.75 L408.53 494.91 L409.53 495.07 L409.57 495.07 L410.54 495.21 L411.54 495.34 L412.54 495.47 L413.54 495.59 L414.55 495.71 L415.55 495.82 L416.55 495.93 L417.55 496.04 L418.56 496.14 L419.56 496.24 L420.56 496.34 L421.56 496.44 L422.57 496.54 L423.57 496.63 L424.57 496.73 L425.58 496.83 L426.58 496.94 L427.58 497.04 L428.58 497.15 L429.59 497.27 L430.48 497.38 L430.59 497.39 L431.59 497.51 L432.59 497.63 L433.60 497.76 L434.60 497.88 L435.60 498.01 L436.61 498.13 L437.61 498.26 L438.61 498.39 L439.61 498.52 L440.62 498.64 L441.62 498.77 L442.62 498.90 L443.62 499.03 L444.63 499.17 L445.63 499.30 L446.63 499.43 L447.63 499.56 L448.51 499.68 L448.64 499.70 L449.64 499.83 L450.64 499.97 L451.65 500.10 L452.65 500.24 L453.65 500.38 L454.65 500.52 L455.66 500.66 L456.66 500.80 L457.66 500.94 L458.66 501.09 L459.67 501.23 L460.67 501.38 L461.67 501.52" fill="none" stroke="#12a85a" stroke-width="1.15"/>
<path d="M322.30 511.20 L323.30 509.53 L324.31 507.79 L325.31 505.99 L326.31 504.12 L327.31 502.21 L328.32 500.24 L329.32 498.23 L330.32 496.19 L331.32 494.12 L332.33 492.02 L332.85 490.92 L333.33 489.90 L334.33 487.68 L335.33 485.37 L336.34 482.97 L337.34 480.47 L338.34 477.87 L338.98 476.18 L339.35 475.10 L340.33 472.03 L340.35 471.98 L341.35 469.50 L341.41 469.50 L342.35 469.89 L343.36 470.72 L344.36 471.71 L345.20 472.49 L345.36 472.63 L346.36 473.48 L347.37 474.34 L348.37 475.21 L349.37 476.07 L350.37 476.92 L351.15 477.56 L351.38 477.75 L352.38 478.61 L353.38 479.48 L354.39 480.33 L355.39 481.16 L356.39 481.92 L357.39 482.59 L357.46 482.63 L358.40 483.19 L359.40 483.76 L360.40 484.31 L361.40 484.82 L362.41 485.30 L363.41 485.76 L364.41 486.19 L365.42 486.58 L365.93 486.78 L366.42 486.96 L367.42 487.32 L368.42 487.69 L369.43 488.05 L370.43 488.41 L371.43 488.75 L372.43 489.09 L373.44 489.41 L374.44 489.71 L375.44 490.00 L376.44 490.27 L377.45 490.52 L378.19 490.69 L378.45 490.75 L379.45 490.97 L380.46 491.17 L381.46 491.37 L382.46 491.57 L383.46 491.76 L384.47 491.94 L385.47 492.12 L386.47 492.30 L387.47 492.48 L388.48 492.66 L389.48 492.83 L390.48 493.01 L391.48 493.19 L392.49 493.37 L392.98 493.46 L393.49 493.55 L394.49 493.74 L395.50 493.94 L396.50 494.13 L397.50 494.33 L398.50 494.53 L399.51 494.74 L400.51 494.93 L401.51 495.13 L402.51 495.32 L403.52 495.51 L404.52 495.69 L405.52 495.86 L406.52 496.03 L407.53 496.18 L408.53 496.32 L409.53 496.45 L409.57 496.45 L410.54 496.57 L411.54 496.68 L412.54 496.79 L413.54 496.89 L414.55 496.98 L415.55 497.07 L416.55 497.16 L417.55 497.25 L418.56 497.33 L419.56 497.41 L420.56 497.48 L421.56 497.56 L422.57 497.64 L423.57 497.71 L424.57 497.79 L425.58 497.87 L426.58 497.95 L427.58 498.04 L428.58 498.12 L429.59 498.21 L430.48 498.30 L430.59 498.31 L431.59 498.40 L432.59 498.50 L433.60 498.60 L434.60 498.69 L435.60 498.79 L436.61 498.89 L437.61 498.99 L438.61 499.09 L439.61 499.19 L440.62 499.29 L441.62 499.39 L442.62 499.50 L443.62 499.60 L444.63 499.71 L445.63 499.82 L446.63 499.93 L447.63 500.04 L448.51 500.14 L448.64 500.16 L449.64 500.27 L450.64 500.40 L451.65 500.53 L452.65 500.66 L453.65 500.80 L454.65 500.94 L455.66 501.08 L456.66 501.22 L457.66 501.37 L458.66 501.52 L459.67 501.67 L460.67 501.83 L461.67 501.98" fill="none" stroke="#12a85a" stroke-width="1.25" stroke-dasharray="3.6 2.6"/>
<path d="M322.30 511.20 L323.38 509.39 L324.47 507.51 L325.55 505.55 L326.64 503.52 L327.72 501.43 L328.81 499.29 L329.89 497.10 L330.98 494.86 L332.06 492.59 L332.85 490.92 L333.14 490.29 L334.23 487.88 L335.31 485.34 L336.40 482.71 L337.48 480.00 L338.57 477.24 L338.98 476.18 L339.65 474.39 L340.73 471.34 L341.82 468.18 L342.90 465.03 L343.99 462.00 L345.07 459.20 L345.20 458.90 L346.16 456.58 L347.24 454.00 L348.33 451.67 L349.41 449.81 L350.07 448.99 L350.49 448.55 L351.58 447.48 L352.66 446.52 L353.75 445.79 L354.83 445.36 L355.66 445.31 L355.92 445.33 L357.00 445.48 L358.09 445.70 L359.17 445.99 L360.25 446.35 L361.34 446.77 L362.42 447.26 L363.51 447.80 L363.59 447.84 L364.59 448.42 L365.68 449.15 L366.76 449.93 L367.84 450.73 L368.93 451.50 L370.01 452.22 L370.80 452.68 L371.10 452.84 L372.18 453.36 L373.27 453.82 L374.35 454.25 L375.44 454.67 L376.52 455.12 L377.60 455.61 L378.19 455.90 L378.69 456.17 L379.77 456.80 L380.86 457.48 L381.94 458.19 L383.03 458.90 L384.11 459.62 L385.19 460.31 L386.28 460.95 L387.36 461.54 L388.11 461.89 L388.45 462.04 L389.53 462.49 L390.62 462.90 L391.70 463.28 L392.79 463.63 L393.87 463.98 L394.95 464.33 L396.04 464.69 L397.12 465.08 L397.85 465.35 L398.21 465.49 L399.29 465.93 L400.38 466.37 L401.46 466.82 L402.55 467.27 L403.63 467.73 L404.71 468.18 L405.80 468.64 L406.88 469.09 L407.97 469.54 L409.05 469.98 L409.57 470.19 L410.14 470.42 L411.22 470.85 L412.30 471.29 L413.39 471.72 L414.47 472.16 L415.56 472.58 L416.64 473.00 L417.73 473.41 L418.81 473.80 L419.66 474.11 L419.90 474.19 L420.98 474.56 L422.06 474.92 L423.15 475.28 L424.23 475.63 L425.32 475.97 L426.40 476.31 L427.49 476.65 L428.57 476.98 L429.66 477.31 L430.48 477.56 L430.74 477.64 L431.82 477.97 L432.91 478.29 L433.99 478.61 L435.08 478.93 L436.16 479.24 L437.25 479.55 L438.33 479.87 L439.41 480.18 L440.50 480.49 L441.58 480.80 L442.67 481.11 L443.75 481.43 L444.84 481.75 L445.92 482.07 L447.01 482.40 L448.09 482.73 L448.51 482.86 L449.17 483.07 L450.26 483.41 L451.34 483.75 L452.43 484.09 L453.51 484.43 L454.60 484.78 L455.68 485.13 L456.76 485.48 L457.85 485.83 L458.93 486.18 L460.02 486.54 L461.10 486.90 L462.19 487.26 L463.27 487.62 L464.36 487.98 L465.44 488.34 L466.52 488.71 L467.61 489.07 L468.69 489.44 L469.78 489.81 L470.86 490.18 L471.95 490.55 L473.03 490.92" fill="none" stroke="#e01c1c" stroke-width="1.35"/>
<path d="M322.30 511.20 L323.38 509.39 L324.47 507.51 L325.55 505.55 L326.64 503.53 L327.72 501.44 L328.81 499.30 L329.89 497.10 L330.98 494.87 L332.06 492.60 L332.85 490.92 L333.14 490.29 L334.23 487.86 L335.31 485.32 L336.40 482.68 L337.48 479.97 L338.57 477.23 L338.98 476.18 L339.65 474.41 L340.73 471.39 L341.82 468.27 L342.90 465.18 L343.99 462.26 L345.07 459.64 L345.20 459.36 L346.16 457.27 L347.24 455.00 L348.33 453.01 L349.41 451.47 L350.07 450.84 L350.49 450.50 L351.58 449.68 L352.66 448.92 L353.75 448.29 L354.83 447.83 L355.92 447.61 L356.56 447.61 L357.00 447.65 L358.09 447.82 L359.17 448.08 L360.25 448.41 L361.34 448.82 L362.42 449.31 L363.51 449.87 L363.59 449.91 L364.59 450.54 L365.68 451.33 L366.76 452.20 L367.84 453.11 L368.93 454.02 L370.01 454.88 L370.80 455.44 L371.10 455.64 L372.18 456.36 L373.27 457.06 L374.35 457.74 L375.44 458.41 L376.52 459.06 L377.60 459.70 L378.19 460.05 L378.69 460.34 L379.77 461.00 L380.86 461.66 L381.94 462.32 L383.03 462.97 L384.11 463.60 L385.19 464.20 L386.28 464.76 L387.36 465.26 L388.11 465.58 L388.45 465.71 L389.53 466.11 L390.62 466.46 L391.70 466.79 L392.79 467.09 L393.87 467.39 L394.95 467.68 L396.04 468.00 L397.12 468.33 L397.85 468.58 L398.21 468.70 L399.29 469.09 L400.38 469.49 L401.46 469.90 L402.55 470.31 L403.63 470.72 L404.71 471.14 L405.80 471.56 L406.88 471.97 L407.97 472.37 L409.05 472.77 L409.57 472.95 L410.14 473.16 L411.22 473.55 L412.30 473.93 L413.39 474.32 L414.47 474.70 L415.56 475.07 L416.64 475.44 L417.73 475.80 L418.81 476.15 L419.66 476.41 L419.90 476.48 L420.98 476.80 L422.06 477.12 L423.15 477.42 L424.23 477.72 L425.32 478.02 L426.40 478.31 L427.49 478.60 L428.57 478.89 L429.66 479.18 L430.48 479.40 L430.74 479.48 L431.82 479.77 L432.91 480.06 L433.99 480.35 L435.08 480.63 L436.16 480.92 L437.25 481.20 L438.33 481.49 L439.41 481.77 L440.50 482.06 L441.58 482.34 L442.67 482.63 L443.75 482.92 L444.84 483.22 L445.92 483.52 L447.01 483.82 L448.09 484.12 L448.51 484.24 L449.17 484.43 L450.26 484.75 L451.34 485.06 L452.43 485.38 L453.51 485.70 L454.60 486.03 L455.68 486.35 L456.76 486.68 L457.85 487.01 L458.93 487.35 L460.02 487.68 L461.10 488.02 L462.19 488.36 L463.27 488.70 L464.36 489.04 L465.44 489.39 L466.52 489.73 L467.61 490.08 L468.69 490.43 L469.78 490.78 L470.86 491.14 L471.95 491.49 L473.03 491.85" fill="none" stroke="#e01c1c" stroke-width="1.1" stroke-dasharray="3.6 2.6"/>
<path d="M322.30 511.20 L323.52 509.17 L324.73 507.05 L325.95 504.83 L327.16 502.54 L328.38 500.17 L329.59 497.73 L330.81 495.23 L332.02 492.68 L332.85 490.92 L333.24 490.07 L334.45 487.30 L335.67 484.38 L336.88 481.38 L338.10 478.35 L338.98 476.18 L339.32 475.35 L340.53 472.41 L341.75 469.43 L342.96 466.34 L343.94 463.74 L344.18 463.07 L345.39 459.51 L346.61 455.62 L347.82 451.34 L348.44 448.99 L349.04 446.56 L350.25 440.99 L351.47 434.97 L352.59 429.41 L352.69 428.95 L353.90 422.71 L355.12 416.37 L356.33 410.56 L356.56 409.59 L357.55 405.44 L358.76 400.93 L359.80 398.30 L359.98 398.00 L361.19 395.96 L362.41 394.27 L363.62 393.21 L364.31 393.00 L364.84 392.99 L366.05 393.08 L367.27 393.39 L368.49 393.95 L369.18 394.39 L369.70 394.79 L370.92 395.93 L372.13 397.31 L373.32 398.76 L373.35 398.79 L374.56 400.37 L375.78 402.06 L376.99 403.83 L378.21 405.64 L379.42 407.46 L380.64 409.25 L380.72 409.36 L381.85 411.02 L383.07 412.82 L384.29 414.62 L385.50 416.41 L386.72 418.19 L387.93 419.94 L388.11 420.19 L389.15 421.67 L390.36 423.41 L391.58 425.14 L392.79 426.86 L394.01 428.55 L395.22 430.19 L396.44 431.79 L397.66 433.32 L397.85 433.56 L398.87 434.79 L400.09 436.23 L401.30 437.64 L402.52 439.02 L403.73 440.38 L404.95 441.71 L406.16 443.02 L407.38 444.30 L408.59 445.56 L409.81 446.81 L410.83 447.84 L411.02 448.04 L412.24 449.27 L413.46 450.51 L414.67 451.75 L415.89 452.98 L417.10 454.19 L418.32 455.37 L419.53 456.52 L420.75 457.62 L421.96 458.66 L423.18 459.64 L424.35 460.51 L424.39 460.54 L425.61 461.40 L426.82 462.22 L428.04 463.02 L429.26 463.79 L430.47 464.53 L431.69 465.25 L432.90 465.93 L434.12 466.60 L435.33 467.24 L436.55 467.85 L437.76 468.44 L438.05 468.58 L438.98 469.01 L440.19 469.57 L441.41 470.12 L442.62 470.66 L443.84 471.19 L445.06 471.70 L446.27 472.21 L447.49 472.70 L448.70 473.18 L449.92 473.65 L451.13 474.11 L451.76 474.34 L452.35 474.55 L453.56 474.97 L454.78 475.36 L455.99 475.74 L457.21 476.12 L458.43 476.48 L459.64 476.85 L460.86 477.22 L462.07 477.61 L463.29 478.01 L464.50 478.43 L465.28 478.71 L465.72 478.88 L466.93 479.35 L468.15 479.83 L469.36 480.32 L470.58 480.83 L471.79 481.34 L473.01 481.86 L474.23 482.39 L475.44 482.92 L476.66 483.46 L477.87 483.99 L478.98 484.47 L479.09 484.52 L480.30 485.05 L481.52 485.59 L482.73 486.13 L483.95 486.67 L485.16 487.22 L486.38 487.77 L487.59 488.32 L488.81 488.88 L490.03 489.44 L491.24 490.00" fill="none" stroke="#1a1a1a" stroke-width="1.4"/>
<path d="M322.30 511.20 L323.52 509.17 L324.73 507.05 L325.95 504.83 L327.16 502.54 L328.38 500.17 L329.59 497.73 L330.81 495.23 L332.02 492.68 L332.85 490.92 L333.24 490.07 L334.45 487.30 L335.67 484.38 L336.88 481.38 L338.10 478.35 L338.98 476.18 L339.32 475.35 L340.53 472.41 L341.75 469.43 L342.96 466.34 L343.94 463.74 L344.18 463.07 L345.39 459.50 L346.61 455.60 L347.82 451.33 L348.44 448.99 L349.04 446.58 L350.25 441.05 L351.47 435.04 L352.59 429.41 L352.69 428.94 L353.90 422.49 L355.12 415.85 L356.33 409.70 L356.56 408.67 L357.55 404.22 L358.76 399.32 L359.80 396.46 L359.98 396.13 L361.19 393.91 L362.41 392.01 L363.62 390.70 L364.84 390.24 L364.85 390.24 L366.05 390.45 L367.27 390.96 L368.49 391.79 L369.54 392.77 L369.70 392.95 L370.92 394.53 L372.13 396.41 L373.32 398.30 L373.35 398.34 L374.56 400.26 L375.78 402.23 L376.99 404.24 L378.21 406.25 L379.42 408.23 L380.64 410.16 L380.72 410.28 L381.85 412.04 L383.07 413.90 L384.29 415.74 L385.50 417.55 L386.72 419.33 L387.93 421.09 L388.11 421.34 L389.15 422.83 L390.36 424.59 L391.58 426.33 L392.79 428.05 L394.01 429.74 L395.22 431.39 L396.44 432.97 L397.66 434.48 L397.85 434.71 L398.87 435.92 L400.09 437.33 L401.30 438.71 L402.52 440.06 L403.73 441.38 L404.95 442.67 L406.16 443.93 L407.38 445.17 L408.59 446.37 L409.81 447.56 L410.83 448.53 L411.02 448.72 L412.24 449.87 L413.46 451.03 L414.67 452.17 L415.89 453.31 L417.10 454.42 L418.32 455.51 L419.53 456.56 L420.75 457.58 L421.96 458.54 L423.18 459.46 L424.35 460.28 L424.39 460.31 L425.61 461.12 L426.82 461.91 L428.04 462.68 L429.26 463.42 L430.47 464.14 L431.69 464.83 L432.90 465.51 L434.12 466.16 L435.33 466.79 L436.55 467.39 L437.76 467.98 L438.05 468.12 L438.98 468.55 L440.19 469.10 L441.41 469.65 L442.62 470.19 L443.84 470.72 L445.06 471.24 L446.27 471.74 L447.49 472.24 L448.70 472.72 L449.92 473.19 L451.13 473.65 L451.76 473.88 L452.35 474.09 L453.56 474.51 L454.78 474.90 L455.99 475.28 L457.21 475.66 L458.43 476.02 L459.64 476.39 L460.86 476.76 L462.07 477.15 L463.29 477.55 L464.50 477.97 L465.28 478.25 L465.72 478.42 L466.93 478.88 L468.15 479.37 L469.36 479.86 L470.58 480.37 L471.79 480.88 L473.01 481.40 L474.23 481.93 L475.44 482.46 L476.66 483.00 L477.87 483.53 L478.98 484.01 L479.09 484.06 L480.30 484.59 L481.52 485.13 L482.73 485.67 L483.95 486.21 L485.16 486.76 L486.38 487.31 L487.59 487.86 L488.81 488.42 L490.03 488.98 L491.24 489.54" fill="none" stroke="#1a1a1a" stroke-width="1.15" stroke-dasharray="3.6 2.6"/>
<path d="M322.4 372.96V511.2H502.60" fill="none" stroke="#333" stroke-width="1.15"/>
<text x="319.80" y="514.30" text-anchor="end" class="tl">0</text>
<text x="319.80" y="491.26" text-anchor="end" class="tl">0.0001</text>
<text x="319.80" y="468.22" text-anchor="end" class="tl">0.0002</text>
<text x="319.80" y="445.18" text-anchor="end" class="tl">0.0003</text>
<text x="319.80" y="422.14" text-anchor="end" class="tl">0.0004</text>
<text x="319.80" y="399.10" text-anchor="end" class="tl">0.0005</text>
<text x="319.80" y="376.06" text-anchor="end" class="tl">0.0006</text>
<text x="358.36" y="518.7" text-anchor="middle" class="tl">2</text>
<text x="394.42" y="518.7" text-anchor="middle" class="tl">4</text>
<text x="430.48" y="518.7" text-anchor="middle" class="tl">6</text>
<text x="466.54" y="518.7" text-anchor="middle" class="tl">8</text>
<text x="502.60" y="518.7" text-anchor="middle" class="tl">10</text>
<path d="M322.4 511.20h3.2M322.4 488.16h3.2M322.4 465.12h3.2M322.4 442.08h3.2M322.4 419.04h3.2M322.4 396.00h3.2M322.4 372.96h3.2M358.36 511.2v-3.2M394.42 511.2v-3.2M430.48 511.2v-3.2M466.54 511.2v-3.2M502.60 511.2v-3.2" fill="none" stroke="#333" stroke-width="0.9"/>
<path d="M322.4 511.20h1.6M322.4 506.59h1.6M322.4 501.98h1.6M322.4 497.38h1.6M322.4 492.77h1.6M322.4 488.16h1.6M322.4 483.55h1.6M322.4 478.94h1.6M322.4 474.34h1.6M322.4 469.73h1.6M322.4 465.12h1.6M322.4 460.51h1.6M322.4 455.90h1.6M322.4 451.30h1.6M322.4 446.69h1.6M322.4 442.08h1.6M322.4 437.47h1.6M322.4 432.86h1.6M322.4 428.26h1.6M322.4 423.65h1.6M322.4 419.04h1.6M322.4 414.43h1.6M322.4 409.82h1.6M322.4 405.22h1.6M322.4 400.61h1.6M322.4 396.00h1.6M322.4 391.39h1.6M322.4 386.78h1.6M322.4 382.18h1.6M322.4 377.57h1.6M322.4 372.96h1.6M331.31 511.2v-1.6M340.33 511.2v-1.6M349.35 511.2v-1.6M367.38 511.2v-1.6M376.39 511.2v-1.6M385.41 511.2v-1.6M403.44 511.2v-1.6M412.45 511.2v-1.6M421.47 511.2v-1.6M439.50 511.2v-1.6M448.51 511.2v-1.6M457.53 511.2v-1.6M475.56 511.2v-1.6M484.57 511.2v-1.6M493.59 511.2v-1.6" fill="none" stroke="#333" stroke-width="0.6"/>
<text x="412" y="528.2" text-anchor="middle" class="tt">Time (ns)</text>
<text transform="translate(287.8 441.5) rotate(-90)" text-anchor="middle" class="tt">D <tspan class="mx">×</tspan>10<tspan class="sup" dy="-3.8">-8</tspan><tspan dy="3.8"> (m</tspan><tspan class="sup" dy="-3.8">2</tspan><tspan dy="3.8">/s)</tspan></text>
<path d="M393.6 370.50H421.9" stroke="#3838ff" stroke-width="1.15"/>
<text transform="translate(426.8 372.80) scale(0.952 1)" class="lg">C, C-terminated, T=1000 K</text>
<path d="M393.6 378.07H421.9" stroke="#3838ff" stroke-width="1.55" stroke-dasharray="3.9 3.7"/>
<text transform="translate(426.8 380.37) scale(0.952 1)" class="lg">C, Si-terminated, T=1000 K</text>
<path d="M393.6 385.64H421.9" stroke="#12a85a" stroke-width="1.2"/>
<text transform="translate(426.8 387.94) scale(0.952 1)" class="lg">C, C-terminated, T=1200 K</text>
<path d="M393.6 393.21H421.9" stroke="#12a85a" stroke-width="1.4" stroke-dasharray="3.9 3.7"/>
<text transform="translate(426.8 395.51) scale(0.952 1)" class="lg">C, Si-terminated, T=1200 K</text>
<path d="M393.6 400.78H421.9" stroke="#e01c1c" stroke-width="1.6"/>
<text transform="translate(426.8 403.08) scale(0.952 1)" class="lg">C, C-terminated, T=1500 K</text>
<path d="M393.6 408.35H421.9" stroke="#e01c1c" stroke-width="1.1" stroke-dasharray="3.9 3.7"/>
<text transform="translate(426.8 410.65) scale(0.952 1)" class="lg">C, Si-terminated, T=1500 K</text>
<path d="M393.6 415.92H421.9" stroke="#3c3c3c" stroke-width="1.85"/>
<text transform="translate(426.8 418.22) scale(0.952 1)" class="lg">C, C-terminated, T=2000 K</text>
<path d="M393.6 423.49H421.9" stroke="#111" stroke-width="1.0" stroke-dasharray="3.9 3.7"/>
<text transform="translate(426.8 425.79) scale(0.952 1)" class="lg">C, Si-terminated, T=2000 K</text>
<text x="127.5" y="543.3" text-anchor="middle" class="cap">(a)</text>
<text x="397.7" y="543.3" text-anchor="middle" class="cap">(b)</text>
</svg>
</body></html>
